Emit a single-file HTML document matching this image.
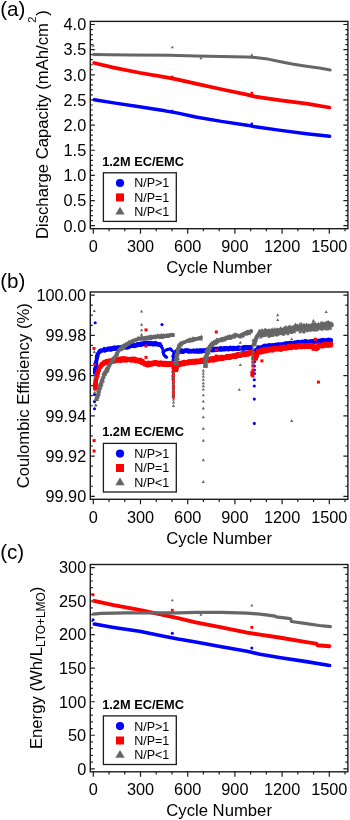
<!DOCTYPE html>
<html><head><meta charset="utf-8"><style>
html,body{margin:0;padding:0;background:#fff;}
svg{display:block;}
text{font-family:"Liberation Sans",sans-serif;fill:#000;}
.tl{font-size:16.3px;}
.at{font-size:16.7px;}
.sup{font-size:11px;}
.pl{font-size:20.6px;}
.lt{font-size:12.8px;font-weight:bold;}
.le{font-size:12.5px;}
</style></head><body>
<svg style="will-change:transform" width="350" height="820" viewBox="0 0 350 820">
<rect width="350" height="820" fill="#fff"/>
<text x="0.2" y="16.3" class="pl">(a)</text>
<text x="0.2" y="287.6" class="pl">(b)</text>
<text x="0.2" y="559.2" class="pl">(c)</text>
<rect x="90.3" y="21.4" width="257.60" height="207.3" fill="none" stroke="#1c1c1c" stroke-width="1.4"/>
<path d="M90.30 24.50h4.5 M347.90 24.50h-4.5 M90.30 29.53h2.5 M347.90 29.53h-2.5 M90.30 34.56h2.5 M347.90 34.56h-2.5 M90.30 39.59h2.5 M347.90 39.59h-2.5 M90.30 44.62h2.5 M347.90 44.62h-2.5 M90.30 49.65h4.5 M347.90 49.65h-4.5 M90.30 54.68h2.5 M347.90 54.68h-2.5 M90.30 59.71h2.5 M347.90 59.71h-2.5 M90.30 64.74h2.5 M347.90 64.74h-2.5 M90.30 69.77h2.5 M347.90 69.77h-2.5 M90.30 74.80h4.5 M347.90 74.80h-4.5 M90.30 79.83h2.5 M347.90 79.83h-2.5 M90.30 84.86h2.5 M347.90 84.86h-2.5 M90.30 89.89h2.5 M347.90 89.89h-2.5 M90.30 94.92h2.5 M347.90 94.92h-2.5 M90.30 99.95h4.5 M347.90 99.95h-4.5 M90.30 104.98h2.5 M347.90 104.98h-2.5 M90.30 110.01h2.5 M347.90 110.01h-2.5 M90.30 115.04h2.5 M347.90 115.04h-2.5 M90.30 120.07h2.5 M347.90 120.07h-2.5 M90.30 125.10h4.5 M347.90 125.10h-4.5 M90.30 130.13h2.5 M347.90 130.13h-2.5 M90.30 135.16h2.5 M347.90 135.16h-2.5 M90.30 140.19h2.5 M347.90 140.19h-2.5 M90.30 145.22h2.5 M347.90 145.22h-2.5 M90.30 150.25h4.5 M347.90 150.25h-4.5 M90.30 155.28h2.5 M347.90 155.28h-2.5 M90.30 160.31h2.5 M347.90 160.31h-2.5 M90.30 165.34h2.5 M347.90 165.34h-2.5 M90.30 170.37h2.5 M347.90 170.37h-2.5 M90.30 175.40h4.5 M347.90 175.40h-4.5 M90.30 180.43h2.5 M347.90 180.43h-2.5 M90.30 185.46h2.5 M347.90 185.46h-2.5 M90.30 190.49h2.5 M347.90 190.49h-2.5 M90.30 195.52h2.5 M347.90 195.52h-2.5 M90.30 200.55h4.5 M347.90 200.55h-4.5 M90.30 205.58h2.5 M347.90 205.58h-2.5 M90.30 210.61h2.5 M347.90 210.61h-2.5 M90.30 215.64h2.5 M347.90 215.64h-2.5 M90.30 220.67h2.5 M347.90 220.67h-2.5 M90.30 225.70h4.5 M347.90 225.70h-4.5 M93.30 228.70v5 M109.03 228.70v2.6 M124.77 228.70v2.6 M140.50 228.70v5 M156.23 228.70v2.6 M171.97 228.70v2.6 M187.70 228.70v5 M203.43 228.70v2.6 M219.17 228.70v2.6 M234.90 228.70v5 M250.63 228.70v2.6 M266.37 228.70v2.6 M282.10 228.70v5 M297.83 228.70v2.6 M313.57 228.70v2.6 M329.30 228.70v5 M345.03 228.70v2.6" stroke="#1c1c1c" stroke-width="1.2" fill="none"/>
<text x="86.2" y="30.30" text-anchor="end" class="tl">4.0</text>
<text x="86.2" y="55.45" text-anchor="end" class="tl">3.5</text>
<text x="86.2" y="80.60" text-anchor="end" class="tl">3.0</text>
<text x="86.2" y="105.75" text-anchor="end" class="tl">2.5</text>
<text x="86.2" y="130.90" text-anchor="end" class="tl">2.0</text>
<text x="86.2" y="156.05" text-anchor="end" class="tl">1.5</text>
<text x="86.2" y="181.20" text-anchor="end" class="tl">1.0</text>
<text x="86.2" y="206.35" text-anchor="end" class="tl">0.5</text>
<text x="86.2" y="231.50" text-anchor="end" class="tl">0.0</text>
<text x="93.30" y="251.90" text-anchor="middle" class="tl">0</text>
<text x="140.50" y="251.90" text-anchor="middle" class="tl">300</text>
<text x="187.70" y="251.90" text-anchor="middle" class="tl">600</text>
<text x="234.90" y="251.90" text-anchor="middle" class="tl">900</text>
<text x="282.10" y="251.90" text-anchor="middle" class="tl">1200</text>
<text x="329.30" y="251.90" text-anchor="middle" class="tl">1500</text>
<text x="219.1" y="272.90" text-anchor="middle" class="at">Cycle Number</text>
<text transform="translate(47.9 239.1) rotate(-90)" class="at">Discharge Capacity (mAh/cm</text>
<text transform="translate(36.4 19.7) rotate(-90)" text-anchor="middle" class="sup">2</text>
<text transform="translate(47.9 12.9) rotate(-90)" text-anchor="middle" class="at">)</text>
<text x="102.2" y="165.80" class="lt">1.2M EC/EMC</text>
<rect x="103.4" y="172.80" width="72.9" height="48.6" fill="none" stroke="#1c1c1c" stroke-width="1.3"/>
<circle cx="120" cy="183.00" r="4.1" fill="#0000ff"/>
<rect x="116.0" y="193.40" width="8" height="8" fill="#ff0000"/>
<path d="M115.3 214.60L124.7 214.60L120 206.80Z" fill="#666666"/>
<text x="134.2" y="187.40" class="le">N/P&gt;1</text>
<text x="134.2" y="201.70" class="le">N/P=1</text>
<text x="134.2" y="215.90" class="le">N/P&lt;1</text>
<polyline points="94.30,99.80 113.70,102.90 139.40,106.70 165.10,110.80 178.00,113.20 195.70,117.00 221.40,121.40 247.10,125.20 255.00,126.80 280.70,130.40 306.40,133.70 329.60,136.30" fill="none" stroke="#0000ff" stroke-width="3.4" stroke-linejoin="round" stroke-linecap="round"/>
<polyline points="94.20,63.00 113.70,67.60 139.40,72.80 165.10,77.10 178.00,79.60 195.70,83.60 221.40,89.20 247.10,94.60 255.00,96.60 280.70,100.30 306.40,103.60 329.40,107.50" fill="none" stroke="#ff0000" stroke-width="3.7" stroke-linejoin="round" stroke-linecap="round"/>
<polyline points="93.60,54.60 110.00,54.70 130.00,54.90 170.00,55.30 195.70,56.10 221.40,56.60 247.10,57.10 255.00,57.40 267.90,59.10 280.70,61.70 293.60,64.30 306.40,66.30 319.30,68.10 330.20,69.90" fill="none" stroke="#666666" stroke-width="3.0" stroke-linejoin="round" stroke-linecap="round"/>
<path d="M91.70 46.75L94.70 46.75L93.20 44.05ZM170.80 48.35L173.80 48.35L172.30 45.65ZM250.30 55.95L253.30 55.95L251.80 53.25ZM199.40 59.15L202.40 59.15L200.90 56.45Z" fill="#666666"/>
<g fill="#ff0000"><rect x="170.90" y="75.70" width="2.6" height="2.6"/><rect x="250.50" y="91.80" width="2.6" height="2.6"/></g>
<g fill="#0000ff"><circle cx="172.20" cy="111.20" r="1.4"/><circle cx="251.80" cy="124.00" r="1.4"/></g>
<rect x="90.3" y="292.0" width="257.60" height="207.3" fill="none" stroke="#1c1c1c" stroke-width="1.4"/>
<path d="M90.30 295.10h4.5 M347.90 295.10h-4.5 M90.30 305.16h2.5 M347.90 305.16h-2.5 M90.30 315.22h2.5 M347.90 315.22h-2.5 M90.30 325.28h2.5 M347.90 325.28h-2.5 M90.30 335.34h4.5 M347.90 335.34h-4.5 M90.30 345.40h2.5 M347.90 345.40h-2.5 M90.30 355.46h2.5 M347.90 355.46h-2.5 M90.30 365.52h2.5 M347.90 365.52h-2.5 M90.30 375.58h4.5 M347.90 375.58h-4.5 M90.30 385.64h2.5 M347.90 385.64h-2.5 M90.30 395.70h2.5 M347.90 395.70h-2.5 M90.30 405.76h2.5 M347.90 405.76h-2.5 M90.30 415.82h4.5 M347.90 415.82h-4.5 M90.30 425.88h2.5 M347.90 425.88h-2.5 M90.30 435.94h2.5 M347.90 435.94h-2.5 M90.30 446.00h2.5 M347.90 446.00h-2.5 M90.30 456.06h4.5 M347.90 456.06h-4.5 M90.30 466.12h2.5 M347.90 466.12h-2.5 M90.30 476.18h2.5 M347.90 476.18h-2.5 M90.30 486.24h2.5 M347.90 486.24h-2.5 M90.30 496.30h4.5 M347.90 496.30h-4.5 M93.30 499.30v5 M109.03 499.30v2.6 M124.77 499.30v2.6 M140.50 499.30v5 M156.23 499.30v2.6 M171.97 499.30v2.6 M187.70 499.30v5 M203.43 499.30v2.6 M219.17 499.30v2.6 M234.90 499.30v5 M250.63 499.30v2.6 M266.37 499.30v2.6 M282.10 499.30v5 M297.83 499.30v2.6 M313.57 499.30v2.6 M329.30 499.30v5 M345.03 499.30v2.6" stroke="#1c1c1c" stroke-width="1.2" fill="none"/>
<text x="86.2" y="300.90" text-anchor="end" class="tl">100.00</text>
<text x="86.2" y="341.14" text-anchor="end" class="tl">99.98</text>
<text x="86.2" y="381.38" text-anchor="end" class="tl">99.96</text>
<text x="86.2" y="421.62" text-anchor="end" class="tl">99.94</text>
<text x="86.2" y="461.86" text-anchor="end" class="tl">99.92</text>
<text x="86.2" y="502.10" text-anchor="end" class="tl">99.90</text>
<text x="93.30" y="522.50" text-anchor="middle" class="tl">0</text>
<text x="140.50" y="522.50" text-anchor="middle" class="tl">300</text>
<text x="187.70" y="522.50" text-anchor="middle" class="tl">600</text>
<text x="234.90" y="522.50" text-anchor="middle" class="tl">900</text>
<text x="282.10" y="522.50" text-anchor="middle" class="tl">1200</text>
<text x="329.30" y="522.50" text-anchor="middle" class="tl">1500</text>
<text x="219.1" y="543.50" text-anchor="middle" class="at">Cycle Number</text>
<text transform="translate(28.7 395.7) rotate(-90)" text-anchor="middle" class="at">Coulombic Efficiency (%)</text>
<text x="102.2" y="436.40" class="lt">1.2M EC/EMC</text>
<rect x="103.4" y="443.40" width="72.9" height="48.6" fill="none" stroke="#1c1c1c" stroke-width="1.3"/>
<circle cx="120" cy="453.60" r="4.1" fill="#0000ff"/>
<rect x="116.0" y="464.00" width="8" height="8" fill="#ff0000"/>
<path d="M115.3 485.20L124.7 485.20L120 477.40Z" fill="#666666"/>
<text x="134.2" y="458.00" class="le">N/P&gt;1</text>
<text x="134.2" y="472.30" class="le">N/P=1</text>
<text x="134.2" y="486.50" class="le">N/P&lt;1</text>
<polyline points="95.50,373.00 95.80,366.00 96.40,360.00 97.20,356.00 98.30,353.00 100.00,351.20 103.00,350.20 108.00,349.20 116.40,347.90 127.90,346.70 139.30,344.30 145.00,343.60 150.00,343.20 156.00,343.80 160.50,344.80" fill="none" stroke="#0000ff" stroke-width="3.0" stroke-linejoin="round" stroke-linecap="round"/>
<polyline points="173.90,358.00 174.80,353.00 176.50,351.20 185.00,350.90 200.00,350.90 217.10,349.10 234.30,348.30 251.60,347.40" fill="none" stroke="#0000ff" stroke-width="3.0" stroke-linejoin="round" stroke-linecap="round"/>
<polyline points="255.40,358.00 256.30,351.00 258.00,348.20 265.00,346.50 280.00,344.80 300.00,342.40 315.00,341.40 331.40,340.20" fill="none" stroke="#0000ff" stroke-width="3.0" stroke-linejoin="round" stroke-linecap="round"/>
<g fill="#0000ff"><circle cx="99.46" cy="350.43" r="1.55"/><circle cx="100.01" cy="352.27" r="1.55"/><circle cx="100.57" cy="349.90" r="1.55"/><circle cx="101.18" cy="351.39" r="1.55"/><circle cx="101.78" cy="350.02" r="1.55"/><circle cx="101.85" cy="351.07" r="1.55"/><circle cx="103.08" cy="349.31" r="1.55"/><circle cx="102.90" cy="350.81" r="1.55"/><circle cx="104.14" cy="348.92" r="1.55"/><circle cx="104.12" cy="351.03" r="1.55"/><circle cx="104.36" cy="348.39" r="1.55"/><circle cx="105.09" cy="351.10" r="1.55"/><circle cx="105.57" cy="348.97" r="1.55"/><circle cx="106.41" cy="350.38" r="1.55"/><circle cx="106.93" cy="348.74" r="1.55"/><circle cx="107.12" cy="350.49" r="1.55"/><circle cx="107.49" cy="348.19" r="1.55"/><circle cx="107.85" cy="349.75" r="1.55"/><circle cx="108.70" cy="347.92" r="1.55"/><circle cx="109.12" cy="349.85" r="1.55"/><circle cx="109.56" cy="347.99" r="1.55"/><circle cx="110.22" cy="350.16" r="1.55"/><circle cx="110.75" cy="348.04" r="1.55"/><circle cx="111.25" cy="349.76" r="1.55"/><circle cx="111.38" cy="347.44" r="1.55"/><circle cx="111.65" cy="350.05" r="1.55"/><circle cx="112.73" cy="347.59" r="1.55"/><circle cx="112.76" cy="349.12" r="1.55"/><circle cx="113.65" cy="347.80" r="1.55"/><circle cx="113.85" cy="349.55" r="1.55"/><circle cx="114.18" cy="346.86" r="1.55"/><circle cx="114.79" cy="349.34" r="1.55"/><circle cx="115.27" cy="347.00" r="1.55"/><circle cx="116.02" cy="349.34" r="1.55"/><circle cx="116.43" cy="346.95" r="1.55"/><circle cx="116.62" cy="348.46" r="1.55"/><circle cx="117.64" cy="346.68" r="1.55"/><circle cx="117.32" cy="349.08" r="1.55"/><circle cx="118.36" cy="346.83" r="1.55"/><circle cx="118.34" cy="348.22" r="1.55"/><circle cx="118.90" cy="346.94" r="1.55"/><circle cx="119.55" cy="348.15" r="1.55"/><circle cx="119.97" cy="346.88" r="1.55"/><circle cx="120.62" cy="348.37" r="1.55"/><circle cx="121.09" cy="346.83" r="1.55"/><circle cx="121.61" cy="348.42" r="1.55"/><circle cx="122.31" cy="346.02" r="1.55"/><circle cx="122.16" cy="348.06" r="1.55"/><circle cx="123.33" cy="346.36" r="1.55"/><circle cx="122.98" cy="348.61" r="1.55"/><circle cx="123.78" cy="346.43" r="1.55"/><circle cx="124.13" cy="347.82" r="1.55"/><circle cx="124.72" cy="345.94" r="1.55"/><circle cx="125.01" cy="347.50" r="1.55"/><circle cx="125.95" cy="346.05" r="1.55"/><circle cx="126.28" cy="348.31" r="1.55"/><circle cx="126.93" cy="345.81" r="1.55"/><circle cx="126.70" cy="347.94" r="1.55"/><circle cx="127.84" cy="345.37" r="1.55"/><circle cx="128.41" cy="348.01" r="1.55"/><circle cx="128.59" cy="345.64" r="1.55"/><circle cx="129.08" cy="347.09" r="1.55"/><circle cx="129.34" cy="345.75" r="1.55"/><circle cx="129.67" cy="346.99" r="1.55"/><circle cx="130.22" cy="345.29" r="1.55"/><circle cx="130.57" cy="346.59" r="1.55"/><circle cx="131.47" cy="345.32" r="1.55"/><circle cx="132.11" cy="346.41" r="1.55"/><circle cx="132.14" cy="344.63" r="1.55"/><circle cx="132.68" cy="346.43" r="1.55"/><circle cx="133.12" cy="344.67" r="1.55"/><circle cx="134.27" cy="346.79" r="1.55"/><circle cx="134.34" cy="344.37" r="1.55"/><circle cx="134.35" cy="345.87" r="1.55"/><circle cx="135.14" cy="344.29" r="1.55"/><circle cx="135.50" cy="346.37" r="1.55"/><circle cx="136.70" cy="344.39" r="1.55"/><circle cx="136.37" cy="345.89" r="1.55"/><circle cx="136.81" cy="343.70" r="1.55"/><circle cx="137.99" cy="345.69" r="1.55"/><circle cx="138.23" cy="343.20" r="1.55"/><circle cx="138.40" cy="345.23" r="1.55"/><circle cx="139.44" cy="343.64" r="1.55"/><circle cx="139.65" cy="345.30" r="1.55"/><circle cx="139.93" cy="343.37" r="1.55"/><circle cx="140.79" cy="345.45" r="1.55"/><circle cx="141.28" cy="342.76" r="1.55"/><circle cx="141.55" cy="345.34" r="1.55"/><circle cx="142.08" cy="343.24" r="1.55"/><circle cx="141.88" cy="344.79" r="1.55"/><circle cx="142.86" cy="343.31" r="1.55"/><circle cx="143.35" cy="344.58" r="1.55"/><circle cx="143.83" cy="342.31" r="1.55"/><circle cx="144.61" cy="345.11" r="1.55"/><circle cx="144.78" cy="342.19" r="1.55"/><circle cx="144.84" cy="344.31" r="1.55"/><circle cx="145.71" cy="342.83" r="1.55"/><circle cx="146.41" cy="344.62" r="1.55"/><circle cx="146.88" cy="342.14" r="1.55"/><circle cx="147.33" cy="344.56" r="1.55"/><circle cx="148.08" cy="342.78" r="1.55"/><circle cx="148.34" cy="344.73" r="1.55"/><circle cx="148.89" cy="342.06" r="1.55"/><circle cx="149.28" cy="343.95" r="1.55"/><circle cx="150.32" cy="342.38" r="1.55"/><circle cx="149.77" cy="344.63" r="1.55"/><circle cx="151.45" cy="342.42" r="1.55"/><circle cx="150.62" cy="344.49" r="1.55"/><circle cx="151.78" cy="342.78" r="1.55"/><circle cx="152.11" cy="344.76" r="1.55"/><circle cx="153.32" cy="342.86" r="1.55"/><circle cx="152.98" cy="344.93" r="1.55"/><circle cx="154.12" cy="342.77" r="1.55"/><circle cx="153.55" cy="344.22" r="1.55"/><circle cx="155.26" cy="342.28" r="1.55"/><circle cx="155.25" cy="344.70" r="1.55"/><circle cx="156.50" cy="342.91" r="1.55"/><circle cx="155.49" cy="345.06" r="1.55"/><circle cx="156.90" cy="343.28" r="1.55"/><circle cx="156.81" cy="344.71" r="1.55"/><circle cx="157.90" cy="343.47" r="1.55"/><circle cx="157.99" cy="344.81" r="1.55"/><circle cx="158.85" cy="343.58" r="1.55"/><circle cx="158.79" cy="345.43" r="1.55"/><circle cx="160.13" cy="343.72" r="1.55"/><circle cx="159.41" cy="345.56" r="1.55"/><circle cx="160.11" cy="343.80" r="1.55"/><circle cx="160.25" cy="345.72" r="1.55"/><circle cx="173.64" cy="357.91" r="1.55"/><circle cx="174.53" cy="358.12" r="1.55"/><circle cx="172.95" cy="356.79" r="1.55"/><circle cx="174.89" cy="357.14" r="1.55"/><circle cx="173.47" cy="355.82" r="1.55"/><circle cx="174.90" cy="356.11" r="1.55"/><circle cx="173.53" cy="354.87" r="1.55"/><circle cx="175.67" cy="355.22" r="1.55"/><circle cx="173.81" cy="353.82" r="1.55"/><circle cx="175.93" cy="354.24" r="1.55"/><circle cx="174.01" cy="352.25" r="1.55"/><circle cx="175.68" cy="353.68" r="1.55"/><circle cx="175.00" cy="351.46" r="1.55"/><circle cx="176.70" cy="352.76" r="1.55"/><circle cx="176.76" cy="350.03" r="1.55"/><circle cx="176.36" cy="352.60" r="1.55"/><circle cx="177.76" cy="350.13" r="1.55"/><circle cx="177.20" cy="352.47" r="1.55"/><circle cx="178.32" cy="350.52" r="1.55"/><circle cx="178.20" cy="351.70" r="1.55"/><circle cx="179.45" cy="350.53" r="1.55"/><circle cx="179.70" cy="352.35" r="1.55"/><circle cx="180.43" cy="350.42" r="1.55"/><circle cx="180.03" cy="352.20" r="1.55"/><circle cx="181.55" cy="349.69" r="1.55"/><circle cx="181.61" cy="351.74" r="1.55"/><circle cx="182.13" cy="350.12" r="1.55"/><circle cx="182.48" cy="352.45" r="1.55"/><circle cx="183.03" cy="350.31" r="1.55"/><circle cx="183.02" cy="351.96" r="1.55"/><circle cx="183.89" cy="350.25" r="1.55"/><circle cx="183.71" cy="352.13" r="1.55"/><circle cx="184.95" cy="349.87" r="1.55"/><circle cx="184.87" cy="351.42" r="1.55"/><circle cx="185.95" cy="349.80" r="1.55"/><circle cx="186.33" cy="351.46" r="1.55"/><circle cx="187.25" cy="349.64" r="1.55"/><circle cx="186.69" cy="351.50" r="1.55"/><circle cx="188.04" cy="350.36" r="1.55"/><circle cx="187.52" cy="351.66" r="1.55"/><circle cx="189.08" cy="349.99" r="1.55"/><circle cx="188.56" cy="352.19" r="1.55"/><circle cx="190.02" cy="350.26" r="1.55"/><circle cx="189.85" cy="351.95" r="1.55"/><circle cx="190.27" cy="350.31" r="1.55"/><circle cx="190.57" cy="352.06" r="1.55"/><circle cx="191.91" cy="350.33" r="1.55"/><circle cx="191.80" cy="352.01" r="1.55"/><circle cx="192.78" cy="350.32" r="1.55"/><circle cx="192.79" cy="351.46" r="1.55"/><circle cx="193.31" cy="349.96" r="1.55"/><circle cx="193.78" cy="351.93" r="1.55"/><circle cx="194.08" cy="350.14" r="1.55"/><circle cx="194.17" cy="351.91" r="1.55"/><circle cx="195.04" cy="350.29" r="1.55"/><circle cx="195.07" cy="351.45" r="1.55"/><circle cx="196.09" cy="350.10" r="1.55"/><circle cx="196.08" cy="352.13" r="1.55"/><circle cx="196.93" cy="349.92" r="1.55"/><circle cx="196.80" cy="351.73" r="1.55"/><circle cx="197.74" cy="350.16" r="1.55"/><circle cx="198.17" cy="352.10" r="1.55"/><circle cx="199.04" cy="350.22" r="1.55"/><circle cx="198.75" cy="352.30" r="1.55"/><circle cx="199.81" cy="349.62" r="1.55"/><circle cx="200.37" cy="351.87" r="1.55"/><circle cx="200.81" cy="349.93" r="1.55"/><circle cx="201.41" cy="351.96" r="1.55"/><circle cx="201.98" cy="349.89" r="1.55"/><circle cx="202.03" cy="351.88" r="1.55"/><circle cx="202.49" cy="349.73" r="1.55"/><circle cx="202.46" cy="351.16" r="1.55"/><circle cx="203.73" cy="349.96" r="1.55"/><circle cx="203.41" cy="351.26" r="1.55"/><circle cx="204.71" cy="349.85" r="1.55"/><circle cx="204.78" cy="351.75" r="1.55"/><circle cx="205.11" cy="349.57" r="1.55"/><circle cx="205.45" cy="351.11" r="1.55"/><circle cx="206.19" cy="349.59" r="1.55"/><circle cx="206.75" cy="350.99" r="1.55"/><circle cx="207.09" cy="348.72" r="1.55"/><circle cx="207.65" cy="350.87" r="1.55"/><circle cx="207.90" cy="349.25" r="1.55"/><circle cx="208.06" cy="350.55" r="1.55"/><circle cx="208.90" cy="349.00" r="1.55"/><circle cx="209.08" cy="350.64" r="1.55"/><circle cx="209.66" cy="349.36" r="1.55"/><circle cx="209.88" cy="350.44" r="1.55"/><circle cx="210.36" cy="349.23" r="1.55"/><circle cx="210.67" cy="350.55" r="1.55"/><circle cx="211.61" cy="348.61" r="1.55"/><circle cx="211.95" cy="350.88" r="1.55"/><circle cx="212.78" cy="348.39" r="1.55"/><circle cx="212.55" cy="350.44" r="1.55"/><circle cx="213.07" cy="348.04" r="1.55"/><circle cx="213.74" cy="350.67" r="1.55"/><circle cx="214.61" cy="348.85" r="1.55"/><circle cx="214.64" cy="350.73" r="1.55"/><circle cx="215.42" cy="348.09" r="1.55"/><circle cx="215.39" cy="349.92" r="1.55"/><circle cx="216.36" cy="348.22" r="1.55"/><circle cx="216.59" cy="350.46" r="1.55"/><circle cx="217.36" cy="348.04" r="1.55"/><circle cx="217.31" cy="350.25" r="1.55"/><circle cx="217.60" cy="348.34" r="1.55"/><circle cx="217.92" cy="349.68" r="1.55"/><circle cx="219.15" cy="348.42" r="1.55"/><circle cx="219.06" cy="350.05" r="1.55"/><circle cx="219.91" cy="347.87" r="1.55"/><circle cx="219.46" cy="349.94" r="1.55"/><circle cx="220.86" cy="347.67" r="1.55"/><circle cx="220.79" cy="349.91" r="1.55"/><circle cx="221.23" cy="347.76" r="1.55"/><circle cx="221.48" cy="350.10" r="1.55"/><circle cx="222.32" cy="348.28" r="1.55"/><circle cx="222.35" cy="350.05" r="1.55"/><circle cx="223.76" cy="347.60" r="1.55"/><circle cx="223.39" cy="349.78" r="1.55"/><circle cx="224.44" cy="347.80" r="1.55"/><circle cx="224.49" cy="350.00" r="1.55"/><circle cx="224.86" cy="347.61" r="1.55"/><circle cx="225.08" cy="349.36" r="1.55"/><circle cx="225.94" cy="347.47" r="1.55"/><circle cx="225.81" cy="349.72" r="1.55"/><circle cx="226.85" cy="348.08" r="1.55"/><circle cx="227.26" cy="349.78" r="1.55"/><circle cx="227.74" cy="347.45" r="1.55"/><circle cx="227.98" cy="349.59" r="1.55"/><circle cx="228.52" cy="347.61" r="1.55"/><circle cx="228.69" cy="349.91" r="1.55"/><circle cx="230.06" cy="347.07" r="1.55"/><circle cx="229.76" cy="349.03" r="1.55"/><circle cx="230.99" cy="347.18" r="1.55"/><circle cx="230.54" cy="349.40" r="1.55"/><circle cx="231.91" cy="347.73" r="1.55"/><circle cx="231.68" cy="349.13" r="1.55"/><circle cx="232.48" cy="347.75" r="1.55"/><circle cx="232.26" cy="349.80" r="1.55"/><circle cx="233.34" cy="347.06" r="1.55"/><circle cx="233.62" cy="349.69" r="1.55"/><circle cx="234.58" cy="347.58" r="1.55"/><circle cx="233.97" cy="349.27" r="1.55"/><circle cx="235.18" cy="347.75" r="1.55"/><circle cx="235.10" cy="349.18" r="1.55"/><circle cx="235.96" cy="347.57" r="1.55"/><circle cx="236.43" cy="349.01" r="1.55"/><circle cx="237.21" cy="347.66" r="1.55"/><circle cx="236.80" cy="349.46" r="1.55"/><circle cx="238.04" cy="346.72" r="1.55"/><circle cx="237.84" cy="349.47" r="1.55"/><circle cx="238.72" cy="347.21" r="1.55"/><circle cx="239.00" cy="349.52" r="1.55"/><circle cx="239.66" cy="347.17" r="1.55"/><circle cx="239.44" cy="348.78" r="1.55"/><circle cx="240.91" cy="347.37" r="1.55"/><circle cx="241.06" cy="348.74" r="1.55"/><circle cx="241.36" cy="347.18" r="1.55"/><circle cx="241.39" cy="348.91" r="1.55"/><circle cx="242.82" cy="347.02" r="1.55"/><circle cx="242.81" cy="349.22" r="1.55"/><circle cx="243.68" cy="346.72" r="1.55"/><circle cx="243.52" cy="349.23" r="1.55"/><circle cx="243.89" cy="346.59" r="1.55"/><circle cx="244.34" cy="348.98" r="1.55"/><circle cx="245.28" cy="346.51" r="1.55"/><circle cx="244.91" cy="348.51" r="1.55"/><circle cx="245.77" cy="346.30" r="1.55"/><circle cx="246.06" cy="348.64" r="1.55"/><circle cx="247.20" cy="346.85" r="1.55"/><circle cx="246.93" cy="349.07" r="1.55"/><circle cx="247.74" cy="346.46" r="1.55"/><circle cx="247.93" cy="348.62" r="1.55"/><circle cx="248.56" cy="346.88" r="1.55"/><circle cx="249.23" cy="348.24" r="1.55"/><circle cx="249.50" cy="346.52" r="1.55"/><circle cx="250.25" cy="348.86" r="1.55"/><circle cx="250.35" cy="346.52" r="1.55"/><circle cx="250.40" cy="348.13" r="1.55"/><circle cx="251.27" cy="346.57" r="1.55"/><circle cx="251.41" cy="348.13" r="1.55"/><circle cx="254.67" cy="357.87" r="1.55"/><circle cx="256.54" cy="358.16" r="1.55"/><circle cx="254.66" cy="356.89" r="1.55"/><circle cx="256.25" cy="357.11" r="1.55"/><circle cx="254.92" cy="355.93" r="1.55"/><circle cx="256.78" cy="356.18" r="1.55"/><circle cx="254.91" cy="354.87" r="1.55"/><circle cx="256.88" cy="355.17" r="1.55"/><circle cx="254.96" cy="353.90" r="1.55"/><circle cx="256.75" cy="354.11" r="1.55"/><circle cx="254.92" cy="352.82" r="1.55"/><circle cx="256.99" cy="353.17" r="1.55"/><circle cx="255.81" cy="351.93" r="1.55"/><circle cx="257.50" cy="352.17" r="1.55"/><circle cx="254.99" cy="350.45" r="1.55"/><circle cx="257.39" cy="351.45" r="1.55"/><circle cx="256.05" cy="349.40" r="1.55"/><circle cx="257.89" cy="350.81" r="1.55"/><circle cx="256.64" cy="348.82" r="1.55"/><circle cx="258.44" cy="349.65" r="1.55"/><circle cx="257.85" cy="346.84" r="1.55"/><circle cx="258.48" cy="349.29" r="1.55"/><circle cx="258.69" cy="347.07" r="1.55"/><circle cx="259.23" cy="348.51" r="1.55"/><circle cx="259.92" cy="347.07" r="1.55"/><circle cx="259.86" cy="348.86" r="1.55"/><circle cx="260.28" cy="346.96" r="1.55"/><circle cx="261.05" cy="348.64" r="1.55"/><circle cx="261.01" cy="346.76" r="1.55"/><circle cx="261.80" cy="348.33" r="1.55"/><circle cx="261.95" cy="346.29" r="1.55"/><circle cx="262.24" cy="348.18" r="1.55"/><circle cx="263.03" cy="346.16" r="1.55"/><circle cx="263.70" cy="348.31" r="1.55"/><circle cx="263.79" cy="345.40" r="1.55"/><circle cx="264.09" cy="347.42" r="1.55"/><circle cx="265.00" cy="345.09" r="1.55"/><circle cx="264.71" cy="347.29" r="1.55"/><circle cx="265.97" cy="345.42" r="1.55"/><circle cx="265.85" cy="347.29" r="1.55"/><circle cx="267.09" cy="345.15" r="1.55"/><circle cx="266.58" cy="347.00" r="1.55"/><circle cx="267.66" cy="345.36" r="1.55"/><circle cx="267.70" cy="347.33" r="1.55"/><circle cx="268.80" cy="344.82" r="1.55"/><circle cx="268.63" cy="347.05" r="1.55"/><circle cx="269.38" cy="344.55" r="1.55"/><circle cx="269.62" cy="347.25" r="1.55"/><circle cx="270.75" cy="345.15" r="1.55"/><circle cx="271.07" cy="346.64" r="1.55"/><circle cx="271.20" cy="344.79" r="1.55"/><circle cx="271.58" cy="346.47" r="1.55"/><circle cx="272.73" cy="344.52" r="1.55"/><circle cx="272.49" cy="346.29" r="1.55"/><circle cx="273.74" cy="344.84" r="1.55"/><circle cx="273.15" cy="346.18" r="1.55"/><circle cx="274.23" cy="344.88" r="1.55"/><circle cx="274.84" cy="346.79" r="1.55"/><circle cx="275.58" cy="344.14" r="1.55"/><circle cx="275.33" cy="346.72" r="1.55"/><circle cx="276.52" cy="344.55" r="1.55"/><circle cx="276.01" cy="346.43" r="1.55"/><circle cx="276.96" cy="343.99" r="1.55"/><circle cx="277.15" cy="345.97" r="1.55"/><circle cx="277.65" cy="344.35" r="1.55"/><circle cx="278.09" cy="345.78" r="1.55"/><circle cx="278.60" cy="343.50" r="1.55"/><circle cx="278.99" cy="346.32" r="1.55"/><circle cx="280.16" cy="343.96" r="1.55"/><circle cx="280.10" cy="346.08" r="1.55"/><circle cx="280.82" cy="344.15" r="1.55"/><circle cx="281.35" cy="345.54" r="1.55"/><circle cx="281.63" cy="343.90" r="1.55"/><circle cx="281.60" cy="345.93" r="1.55"/><circle cx="282.87" cy="343.58" r="1.55"/><circle cx="282.51" cy="345.70" r="1.55"/><circle cx="283.22" cy="343.83" r="1.55"/><circle cx="283.61" cy="345.74" r="1.55"/><circle cx="284.72" cy="343.05" r="1.55"/><circle cx="284.46" cy="345.07" r="1.55"/><circle cx="285.38" cy="342.74" r="1.55"/><circle cx="285.72" cy="344.89" r="1.55"/><circle cx="286.09" cy="343.24" r="1.55"/><circle cx="286.63" cy="344.54" r="1.55"/><circle cx="287.22" cy="342.56" r="1.55"/><circle cx="287.06" cy="345.32" r="1.55"/><circle cx="288.08" cy="343.10" r="1.55"/><circle cx="288.71" cy="345.23" r="1.55"/><circle cx="288.79" cy="342.84" r="1.55"/><circle cx="289.19" cy="344.62" r="1.55"/><circle cx="289.58" cy="342.22" r="1.55"/><circle cx="290.34" cy="344.86" r="1.55"/><circle cx="290.97" cy="342.21" r="1.55"/><circle cx="290.90" cy="344.57" r="1.55"/><circle cx="291.61" cy="342.58" r="1.55"/><circle cx="291.63" cy="344.62" r="1.55"/><circle cx="292.85" cy="342.59" r="1.55"/><circle cx="292.47" cy="344.00" r="1.55"/><circle cx="293.61" cy="342.63" r="1.55"/><circle cx="294.12" cy="343.97" r="1.55"/><circle cx="294.78" cy="341.72" r="1.55"/><circle cx="294.30" cy="343.80" r="1.55"/><circle cx="295.38" cy="342.36" r="1.55"/><circle cx="295.55" cy="344.12" r="1.55"/><circle cx="296.21" cy="342.12" r="1.55"/><circle cx="296.63" cy="343.92" r="1.55"/><circle cx="297.41" cy="341.52" r="1.55"/><circle cx="297.11" cy="343.86" r="1.55"/><circle cx="297.86" cy="341.32" r="1.55"/><circle cx="298.20" cy="343.65" r="1.55"/><circle cx="298.71" cy="341.31" r="1.55"/><circle cx="298.98" cy="343.24" r="1.55"/><circle cx="300.26" cy="341.75" r="1.55"/><circle cx="299.93" cy="343.45" r="1.55"/><circle cx="301.27" cy="341.46" r="1.55"/><circle cx="300.79" cy="343.32" r="1.55"/><circle cx="301.91" cy="341.00" r="1.55"/><circle cx="301.65" cy="343.72" r="1.55"/><circle cx="303.00" cy="341.26" r="1.55"/><circle cx="303.23" cy="343.52" r="1.55"/><circle cx="303.55" cy="341.61" r="1.55"/><circle cx="303.54" cy="342.76" r="1.55"/><circle cx="304.66" cy="340.66" r="1.55"/><circle cx="304.68" cy="343.48" r="1.55"/><circle cx="305.50" cy="340.70" r="1.55"/><circle cx="305.90" cy="342.77" r="1.55"/><circle cx="306.15" cy="340.56" r="1.55"/><circle cx="306.73" cy="343.03" r="1.55"/><circle cx="307.35" cy="341.19" r="1.55"/><circle cx="307.31" cy="342.53" r="1.55"/><circle cx="308.47" cy="341.09" r="1.55"/><circle cx="308.28" cy="342.96" r="1.55"/><circle cx="309.20" cy="341.27" r="1.55"/><circle cx="309.20" cy="342.92" r="1.55"/><circle cx="310.02" cy="340.91" r="1.55"/><circle cx="310.43" cy="342.97" r="1.55"/><circle cx="310.89" cy="341.09" r="1.55"/><circle cx="311.35" cy="342.53" r="1.55"/><circle cx="311.79" cy="340.48" r="1.55"/><circle cx="312.39" cy="342.24" r="1.55"/><circle cx="312.89" cy="340.63" r="1.55"/><circle cx="313.54" cy="342.32" r="1.55"/><circle cx="314.06" cy="340.66" r="1.55"/><circle cx="314.05" cy="342.30" r="1.55"/><circle cx="315.30" cy="340.07" r="1.55"/><circle cx="314.82" cy="342.25" r="1.55"/><circle cx="315.59" cy="340.14" r="1.55"/><circle cx="316.27" cy="341.84" r="1.55"/><circle cx="317.01" cy="340.36" r="1.55"/><circle cx="317.19" cy="342.15" r="1.55"/><circle cx="317.39" cy="340.26" r="1.55"/><circle cx="317.81" cy="341.71" r="1.55"/><circle cx="318.89" cy="340.02" r="1.55"/><circle cx="318.78" cy="341.72" r="1.55"/><circle cx="319.50" cy="340.21" r="1.55"/><circle cx="319.43" cy="341.71" r="1.55"/><circle cx="320.73" cy="340.00" r="1.55"/><circle cx="320.50" cy="341.60" r="1.55"/><circle cx="321.66" cy="339.66" r="1.55"/><circle cx="321.13" cy="341.62" r="1.55"/><circle cx="322.57" cy="339.47" r="1.55"/><circle cx="322.00" cy="341.83" r="1.55"/><circle cx="323.01" cy="339.41" r="1.55"/><circle cx="323.40" cy="342.16" r="1.55"/><circle cx="323.75" cy="339.45" r="1.55"/><circle cx="323.98" cy="341.98" r="1.55"/><circle cx="325.23" cy="339.78" r="1.55"/><circle cx="324.86" cy="341.96" r="1.55"/><circle cx="325.80" cy="339.89" r="1.55"/><circle cx="325.91" cy="341.59" r="1.55"/><circle cx="326.60" cy="339.92" r="1.55"/><circle cx="327.25" cy="341.73" r="1.55"/><circle cx="327.77" cy="339.93" r="1.55"/><circle cx="327.48" cy="341.69" r="1.55"/><circle cx="328.27" cy="339.10" r="1.55"/><circle cx="328.79" cy="341.47" r="1.55"/><circle cx="329.34" cy="339.23" r="1.55"/><circle cx="329.71" cy="341.23" r="1.55"/><circle cx="330.55" cy="339.36" r="1.55"/><circle cx="330.51" cy="341.19" r="1.55"/><circle cx="331.50" cy="339.68" r="1.55"/><circle cx="331.19" cy="341.17" r="1.55"/><circle cx="95.14" cy="372.97" r="1.55"/><circle cx="95.64" cy="373.02" r="1.55"/><circle cx="94.83" cy="371.98" r="1.55"/><circle cx="95.67" cy="372.01" r="1.55"/><circle cx="95.38" cy="370.99" r="1.55"/><circle cx="95.64" cy="371.02" r="1.55"/><circle cx="94.79" cy="369.98" r="1.55"/><circle cx="96.42" cy="370.02" r="1.55"/><circle cx="94.89" cy="368.98" r="1.55"/><circle cx="96.00" cy="369.02" r="1.55"/><circle cx="94.72" cy="367.97" r="1.55"/><circle cx="96.76" cy="368.03" r="1.55"/><circle cx="95.44" cy="366.98" r="1.55"/><circle cx="96.37" cy="367.01" r="1.55"/><circle cx="95.75" cy="365.96" r="1.55"/><circle cx="96.21" cy="366.07" r="1.55"/><circle cx="95.64" cy="364.94" r="1.55"/><circle cx="95.92" cy="365.01" r="1.55"/><circle cx="95.15" cy="363.94" r="1.55"/><circle cx="96.49" cy="364.07" r="1.55"/><circle cx="95.20" cy="362.94" r="1.55"/><circle cx="96.86" cy="363.04" r="1.55"/><circle cx="95.78" cy="361.98" r="1.55"/><circle cx="96.48" cy="362.04" r="1.55"/><circle cx="95.92" cy="360.99" r="1.55"/><circle cx="96.85" cy="361.02" r="1.55"/><circle cx="96.19" cy="359.90" r="1.55"/><circle cx="96.83" cy="360.04" r="1.55"/><circle cx="96.45" cy="358.97" r="1.55"/><circle cx="96.99" cy="359.10" r="1.55"/><circle cx="96.20" cy="357.87" r="1.55"/><circle cx="97.57" cy="358.09" r="1.55"/><circle cx="97.23" cy="356.97" r="1.55"/><circle cx="97.41" cy="357.10" r="1.55"/><circle cx="96.44" cy="355.79" r="1.55"/><circle cx="97.95" cy="356.25" r="1.55"/><circle cx="97.47" cy="354.89" r="1.55"/><circle cx="97.67" cy="355.13" r="1.55"/><circle cx="97.03" cy="353.80" r="1.55"/><circle cx="98.32" cy="354.22" r="1.55"/><circle cx="98.32" cy="352.65" r="1.55"/><circle cx="98.78" cy="353.33" r="1.55"/><circle cx="98.53" cy="351.89" r="1.55"/><circle cx="98.96" cy="352.18" r="1.55"/><circle cx="99.95" cy="350.71" r="1.55"/><circle cx="100.32" cy="351.63" r="1.55"/><circle cx="161.50" cy="346.50" r="1.55"/><circle cx="162.50" cy="348.50" r="1.55"/><circle cx="163.00" cy="351.00" r="1.55"/><circle cx="163.50" cy="353.50" r="1.55"/><circle cx="164.50" cy="355.50" r="1.55"/><circle cx="165.50" cy="356.80" r="1.55"/><circle cx="166.50" cy="357.30" r="1.55"/><circle cx="164.00" cy="351.50" r="1.55"/><circle cx="165.00" cy="350.50" r="1.55"/><circle cx="166.50" cy="349.80" r="1.55"/><circle cx="168.00" cy="349.20" r="1.55"/><circle cx="169.50" cy="349.00" r="1.55"/><circle cx="171.00" cy="349.40" r="1.55"/><circle cx="172.20" cy="350.80" r="1.55"/><circle cx="162.00" cy="347.80" r="1.55"/><circle cx="163.20" cy="352.20" r="1.55"/><circle cx="165.80" cy="356.20" r="1.55"/><circle cx="167.40" cy="349.60" r="1.55"/><circle cx="170.20" cy="348.80" r="1.55"/><circle cx="161.20" cy="345.60" r="1.55"/><circle cx="163.80" cy="354.60" r="1.55"/><circle cx="173.00" cy="356.00" r="1.55"/><circle cx="173.00" cy="360.00" r="1.55"/><circle cx="173.00" cy="364.00" r="1.55"/><circle cx="173.00" cy="368.00" r="1.55"/><circle cx="173.00" cy="372.00" r="1.55"/><circle cx="173.00" cy="376.00" r="1.55"/><circle cx="173.00" cy="379.00" r="1.55"/><circle cx="254.40" cy="350.00" r="1.55"/><circle cx="254.40" cy="354.00" r="1.55"/><circle cx="254.40" cy="358.00" r="1.55"/><circle cx="254.40" cy="362.00" r="1.55"/><circle cx="254.40" cy="366.00" r="1.55"/><circle cx="254.40" cy="370.00" r="1.55"/><circle cx="254.40" cy="373.50" r="1.55"/><circle cx="94.50" cy="369.00" r="1.55"/><circle cx="94.50" cy="371.00" r="1.55"/><circle cx="94.50" cy="373.00" r="1.55"/><circle cx="94.50" cy="384.60" r="1.55"/><circle cx="94.50" cy="394.60" r="1.55"/><circle cx="94.50" cy="401.60" r="1.55"/><circle cx="94.50" cy="408.80" r="1.55"/><circle cx="95.20" cy="322.80" r="1.55"/><circle cx="162.00" cy="324.60" r="1.55"/><circle cx="254.30" cy="379.70" r="1.55"/><circle cx="254.30" cy="386.00" r="1.55"/><circle cx="254.30" cy="399.10" r="1.55"/><circle cx="254.30" cy="423.40" r="1.55"/></g>
<polyline points="95.20,388.50 95.60,383.60 96.40,377.60 97.70,372.40 99.40,367.80 102.00,364.40 105.40,362.40 110.60,361.00 115.70,360.00 120.00,359.60 127.90,359.40 135.00,360.00 140.00,360.80 143.50,362.40 146.50,365.00 149.00,363.80 155.00,363.20 165.00,364.00 172.40,364.00" fill="none" stroke="#ff0000" stroke-width="3.8" stroke-linejoin="round" stroke-linecap="round"/>
<polyline points="175.00,370.00 176.20,366.50 178.00,364.60 185.00,362.90 200.00,361.30 217.10,358.60 234.30,356.00 251.60,352.60" fill="none" stroke="#ff0000" stroke-width="3.8" stroke-linejoin="round" stroke-linecap="round"/>
<polyline points="255.00,359.00 255.80,355.00 257.50,352.40 262.00,350.80 270.00,349.60 280.00,348.40 295.00,346.40 312.00,346.00 315.60,348.60 319.00,345.80 331.40,344.20" fill="none" stroke="#ff0000" stroke-width="3.8" stroke-linejoin="round" stroke-linecap="round"/>
<g fill="#ff0000"><rect x="99.88" y="362.21" width="3.0" height="3.0"/><rect x="100.82" y="364.09" width="3.0" height="3.0"/><rect x="100.90" y="361.84" width="3.0" height="3.0"/><rect x="101.63" y="363.06" width="3.0" height="3.0"/><rect x="101.81" y="361.12" width="3.0" height="3.0"/><rect x="102.63" y="363.03" width="3.0" height="3.0"/><rect x="102.35" y="360.24" width="3.0" height="3.0"/><rect x="103.81" y="362.09" width="3.0" height="3.0"/><rect x="103.38" y="360.01" width="3.0" height="3.0"/><rect x="104.21" y="361.63" width="3.0" height="3.0"/><rect x="104.74" y="359.05" width="3.0" height="3.0"/><rect x="105.04" y="361.68" width="3.0" height="3.0"/><rect x="105.92" y="359.70" width="3.0" height="3.0"/><rect x="106.19" y="361.58" width="3.0" height="3.0"/><rect x="106.62" y="358.73" width="3.0" height="3.0"/><rect x="107.65" y="361.70" width="3.0" height="3.0"/><rect x="108.14" y="358.88" width="3.0" height="3.0"/><rect x="108.27" y="360.46" width="3.0" height="3.0"/><rect x="108.68" y="358.42" width="3.0" height="3.0"/><rect x="109.46" y="360.20" width="3.0" height="3.0"/><rect x="110.03" y="358.65" width="3.0" height="3.0"/><rect x="110.16" y="360.97" width="3.0" height="3.0"/><rect x="111.06" y="358.24" width="3.0" height="3.0"/><rect x="111.49" y="360.30" width="3.0" height="3.0"/><rect x="111.60" y="357.37" width="3.0" height="3.0"/><rect x="112.19" y="359.88" width="3.0" height="3.0"/><rect x="113.36" y="358.01" width="3.0" height="3.0"/><rect x="113.65" y="360.20" width="3.0" height="3.0"/><rect x="114.41" y="357.85" width="3.0" height="3.0"/><rect x="114.31" y="359.98" width="3.0" height="3.0"/><rect x="115.10" y="356.93" width="3.0" height="3.0"/><rect x="115.04" y="359.30" width="3.0" height="3.0"/><rect x="115.90" y="357.39" width="3.0" height="3.0"/><rect x="116.64" y="359.32" width="3.0" height="3.0"/><rect x="117.57" y="356.78" width="3.0" height="3.0"/><rect x="117.37" y="359.64" width="3.0" height="3.0"/><rect x="118.42" y="356.83" width="3.0" height="3.0"/><rect x="118.56" y="359.63" width="3.0" height="3.0"/><rect x="119.58" y="357.13" width="3.0" height="3.0"/><rect x="119.30" y="359.81" width="3.0" height="3.0"/><rect x="120.05" y="356.41" width="3.0" height="3.0"/><rect x="120.29" y="358.99" width="3.0" height="3.0"/><rect x="121.78" y="356.54" width="3.0" height="3.0"/><rect x="121.36" y="359.51" width="3.0" height="3.0"/><rect x="122.27" y="356.36" width="3.0" height="3.0"/><rect x="122.80" y="358.92" width="3.0" height="3.0"/><rect x="123.56" y="356.62" width="3.0" height="3.0"/><rect x="123.86" y="359.37" width="3.0" height="3.0"/><rect x="124.67" y="356.77" width="3.0" height="3.0"/><rect x="124.75" y="359.38" width="3.0" height="3.0"/><rect x="125.56" y="356.79" width="3.0" height="3.0"/><rect x="125.29" y="359.21" width="3.0" height="3.0"/><rect x="126.57" y="357.02" width="3.0" height="3.0"/><rect x="126.67" y="358.63" width="3.0" height="3.0"/><rect x="127.10" y="357.18" width="3.0" height="3.0"/><rect x="127.69" y="358.75" width="3.0" height="3.0"/><rect x="128.23" y="357.04" width="3.0" height="3.0"/><rect x="128.00" y="358.75" width="3.0" height="3.0"/><rect x="129.67" y="356.74" width="3.0" height="3.0"/><rect x="129.51" y="359.58" width="3.0" height="3.0"/><rect x="130.59" y="357.52" width="3.0" height="3.0"/><rect x="130.62" y="359.30" width="3.0" height="3.0"/><rect x="131.92" y="356.77" width="3.0" height="3.0"/><rect x="131.70" y="359.05" width="3.0" height="3.0"/><rect x="132.98" y="356.75" width="3.0" height="3.0"/><rect x="132.19" y="359.18" width="3.0" height="3.0"/><rect x="133.25" y="357.73" width="3.0" height="3.0"/><rect x="133.50" y="360.08" width="3.0" height="3.0"/><rect x="134.97" y="357.32" width="3.0" height="3.0"/><rect x="134.12" y="360.00" width="3.0" height="3.0"/><rect x="135.30" y="358.07" width="3.0" height="3.0"/><rect x="135.03" y="360.30" width="3.0" height="3.0"/><rect x="136.60" y="357.99" width="3.0" height="3.0"/><rect x="136.20" y="359.64" width="3.0" height="3.0"/><rect x="137.83" y="358.19" width="3.0" height="3.0"/><rect x="137.19" y="360.19" width="3.0" height="3.0"/><rect x="139.22" y="357.73" width="3.0" height="3.0"/><rect x="137.93" y="360.76" width="3.0" height="3.0"/><rect x="139.59" y="359.08" width="3.0" height="3.0"/><rect x="139.12" y="360.74" width="3.0" height="3.0"/><rect x="140.85" y="359.16" width="3.0" height="3.0"/><rect x="139.50" y="361.24" width="3.0" height="3.0"/><rect x="141.47" y="359.03" width="3.0" height="3.0"/><rect x="140.21" y="361.93" width="3.0" height="3.0"/><rect x="142.19" y="360.41" width="3.0" height="3.0"/><rect x="141.40" y="362.04" width="3.0" height="3.0"/><rect x="143.17" y="361.06" width="3.0" height="3.0"/><rect x="142.20" y="362.46" width="3.0" height="3.0"/><rect x="144.06" y="361.55" width="3.0" height="3.0"/><rect x="143.09" y="362.99" width="3.0" height="3.0"/><rect x="145.22" y="362.14" width="3.0" height="3.0"/><rect x="143.39" y="363.58" width="3.0" height="3.0"/><rect x="144.38" y="362.21" width="3.0" height="3.0"/><rect x="145.44" y="364.20" width="3.0" height="3.0"/><rect x="145.74" y="362.43" width="3.0" height="3.0"/><rect x="146.68" y="364.39" width="3.0" height="3.0"/><rect x="145.97" y="361.48" width="3.0" height="3.0"/><rect x="147.06" y="363.69" width="3.0" height="3.0"/><rect x="147.01" y="360.66" width="3.0" height="3.0"/><rect x="147.28" y="363.94" width="3.0" height="3.0"/><rect x="148.22" y="361.32" width="3.0" height="3.0"/><rect x="148.67" y="363.85" width="3.0" height="3.0"/><rect x="149.70" y="361.03" width="3.0" height="3.0"/><rect x="149.56" y="363.01" width="3.0" height="3.0"/><rect x="150.58" y="360.76" width="3.0" height="3.0"/><rect x="150.77" y="363.49" width="3.0" height="3.0"/><rect x="151.26" y="360.86" width="3.0" height="3.0"/><rect x="151.86" y="362.72" width="3.0" height="3.0"/><rect x="152.56" y="360.42" width="3.0" height="3.0"/><rect x="152.53" y="362.64" width="3.0" height="3.0"/><rect x="153.68" y="360.19" width="3.0" height="3.0"/><rect x="153.41" y="362.49" width="3.0" height="3.0"/><rect x="154.33" y="360.14" width="3.0" height="3.0"/><rect x="154.18" y="362.63" width="3.0" height="3.0"/><rect x="155.71" y="360.41" width="3.0" height="3.0"/><rect x="154.98" y="362.67" width="3.0" height="3.0"/><rect x="156.16" y="360.99" width="3.0" height="3.0"/><rect x="155.86" y="363.15" width="3.0" height="3.0"/><rect x="156.97" y="360.98" width="3.0" height="3.0"/><rect x="157.18" y="363.73" width="3.0" height="3.0"/><rect x="158.48" y="361.30" width="3.0" height="3.0"/><rect x="157.89" y="362.83" width="3.0" height="3.0"/><rect x="159.33" y="360.39" width="3.0" height="3.0"/><rect x="158.79" y="363.60" width="3.0" height="3.0"/><rect x="160.04" y="361.34" width="3.0" height="3.0"/><rect x="159.57" y="362.98" width="3.0" height="3.0"/><rect x="160.49" y="361.20" width="3.0" height="3.0"/><rect x="160.92" y="363.38" width="3.0" height="3.0"/><rect x="161.80" y="360.93" width="3.0" height="3.0"/><rect x="161.54" y="363.71" width="3.0" height="3.0"/><rect x="162.74" y="361.62" width="3.0" height="3.0"/><rect x="162.70" y="363.53" width="3.0" height="3.0"/><rect x="163.44" y="360.83" width="3.0" height="3.0"/><rect x="163.70" y="363.79" width="3.0" height="3.0"/><rect x="164.21" y="361.38" width="3.0" height="3.0"/><rect x="164.73" y="363.96" width="3.0" height="3.0"/><rect x="165.51" y="360.98" width="3.0" height="3.0"/><rect x="165.49" y="364.10" width="3.0" height="3.0"/><rect x="166.24" y="361.13" width="3.0" height="3.0"/><rect x="166.38" y="363.50" width="3.0" height="3.0"/><rect x="167.14" y="361.74" width="3.0" height="3.0"/><rect x="167.37" y="364.03" width="3.0" height="3.0"/><rect x="167.93" y="361.14" width="3.0" height="3.0"/><rect x="168.09" y="363.62" width="3.0" height="3.0"/><rect x="168.98" y="361.15" width="3.0" height="3.0"/><rect x="169.39" y="363.91" width="3.0" height="3.0"/><rect x="170.10" y="361.64" width="3.0" height="3.0"/><rect x="169.89" y="364.02" width="3.0" height="3.0"/><rect x="171.28" y="361.30" width="3.0" height="3.0"/><rect x="170.93" y="363.19" width="3.0" height="3.0"/><rect x="172.94" y="368.23" width="3.0" height="3.0"/><rect x="175.13" y="369.05" width="3.0" height="3.0"/><rect x="173.14" y="367.38" width="3.0" height="3.0"/><rect x="175.16" y="368.03" width="3.0" height="3.0"/><rect x="173.05" y="366.35" width="3.0" height="3.0"/><rect x="175.61" y="367.26" width="3.0" height="3.0"/><rect x="173.71" y="365.52" width="3.0" height="3.0"/><rect x="175.38" y="366.16" width="3.0" height="3.0"/><rect x="174.12" y="364.25" width="3.0" height="3.0"/><rect x="175.66" y="365.54" width="3.0" height="3.0"/><rect x="174.48" y="363.33" width="3.0" height="3.0"/><rect x="176.21" y="364.71" width="3.0" height="3.0"/><rect x="176.28" y="362.45" width="3.0" height="3.0"/><rect x="176.92" y="364.19" width="3.0" height="3.0"/><rect x="176.94" y="361.87" width="3.0" height="3.0"/><rect x="177.78" y="363.76" width="3.0" height="3.0"/><rect x="177.87" y="361.02" width="3.0" height="3.0"/><rect x="178.70" y="363.54" width="3.0" height="3.0"/><rect x="178.64" y="361.40" width="3.0" height="3.0"/><rect x="179.53" y="363.23" width="3.0" height="3.0"/><rect x="179.74" y="360.74" width="3.0" height="3.0"/><rect x="180.33" y="363.39" width="3.0" height="3.0"/><rect x="181.03" y="361.16" width="3.0" height="3.0"/><rect x="181.23" y="363.05" width="3.0" height="3.0"/><rect x="181.63" y="360.30" width="3.0" height="3.0"/><rect x="181.86" y="362.97" width="3.0" height="3.0"/><rect x="182.03" y="360.38" width="3.0" height="3.0"/><rect x="182.88" y="363.15" width="3.0" height="3.0"/><rect x="183.14" y="359.81" width="3.0" height="3.0"/><rect x="183.42" y="362.47" width="3.0" height="3.0"/><rect x="184.07" y="360.18" width="3.0" height="3.0"/><rect x="184.68" y="361.95" width="3.0" height="3.0"/><rect x="185.07" y="360.24" width="3.0" height="3.0"/><rect x="185.46" y="362.18" width="3.0" height="3.0"/><rect x="186.30" y="359.98" width="3.0" height="3.0"/><rect x="186.35" y="362.48" width="3.0" height="3.0"/><rect x="187.35" y="359.32" width="3.0" height="3.0"/><rect x="187.59" y="361.71" width="3.0" height="3.0"/><rect x="188.24" y="359.24" width="3.0" height="3.0"/><rect x="188.54" y="361.70" width="3.0" height="3.0"/><rect x="188.59" y="359.45" width="3.0" height="3.0"/><rect x="189.56" y="361.46" width="3.0" height="3.0"/><rect x="189.72" y="359.32" width="3.0" height="3.0"/><rect x="189.86" y="361.46" width="3.0" height="3.0"/><rect x="191.12" y="359.69" width="3.0" height="3.0"/><rect x="190.83" y="361.63" width="3.0" height="3.0"/><rect x="191.99" y="358.85" width="3.0" height="3.0"/><rect x="192.34" y="361.33" width="3.0" height="3.0"/><rect x="192.96" y="359.08" width="3.0" height="3.0"/><rect x="193.34" y="361.79" width="3.0" height="3.0"/><rect x="193.92" y="358.78" width="3.0" height="3.0"/><rect x="194.06" y="361.17" width="3.0" height="3.0"/><rect x="194.81" y="358.96" width="3.0" height="3.0"/><rect x="195.18" y="361.33" width="3.0" height="3.0"/><rect x="195.36" y="358.84" width="3.0" height="3.0"/><rect x="195.50" y="361.01" width="3.0" height="3.0"/><rect x="196.14" y="358.80" width="3.0" height="3.0"/><rect x="196.46" y="361.17" width="3.0" height="3.0"/><rect x="197.43" y="358.71" width="3.0" height="3.0"/><rect x="197.99" y="361.15" width="3.0" height="3.0"/><rect x="198.67" y="359.15" width="3.0" height="3.0"/><rect x="198.73" y="360.96" width="3.0" height="3.0"/><rect x="199.45" y="358.28" width="3.0" height="3.0"/><rect x="199.50" y="360.71" width="3.0" height="3.0"/><rect x="199.69" y="357.81" width="3.0" height="3.0"/><rect x="200.62" y="360.86" width="3.0" height="3.0"/><rect x="201.18" y="358.70" width="3.0" height="3.0"/><rect x="201.77" y="360.77" width="3.0" height="3.0"/><rect x="202.33" y="358.22" width="3.0" height="3.0"/><rect x="202.28" y="360.44" width="3.0" height="3.0"/><rect x="202.37" y="357.45" width="3.0" height="3.0"/><rect x="203.33" y="360.53" width="3.0" height="3.0"/><rect x="204.03" y="357.93" width="3.0" height="3.0"/><rect x="204.04" y="359.99" width="3.0" height="3.0"/><rect x="204.82" y="357.58" width="3.0" height="3.0"/><rect x="204.89" y="359.68" width="3.0" height="3.0"/><rect x="205.57" y="357.55" width="3.0" height="3.0"/><rect x="205.78" y="360.22" width="3.0" height="3.0"/><rect x="206.28" y="356.96" width="3.0" height="3.0"/><rect x="206.61" y="359.72" width="3.0" height="3.0"/><rect x="207.69" y="357.18" width="3.0" height="3.0"/><rect x="207.95" y="359.75" width="3.0" height="3.0"/><rect x="208.09" y="357.23" width="3.0" height="3.0"/><rect x="208.62" y="359.21" width="3.0" height="3.0"/><rect x="209.32" y="356.75" width="3.0" height="3.0"/><rect x="209.59" y="358.78" width="3.0" height="3.0"/><rect x="209.98" y="356.33" width="3.0" height="3.0"/><rect x="210.15" y="358.65" width="3.0" height="3.0"/><rect x="210.75" y="357.16" width="3.0" height="3.0"/><rect x="211.45" y="359.47" width="3.0" height="3.0"/><rect x="212.01" y="356.30" width="3.0" height="3.0"/><rect x="212.35" y="359.32" width="3.0" height="3.0"/><rect x="212.79" y="356.20" width="3.0" height="3.0"/><rect x="213.20" y="358.94" width="3.0" height="3.0"/><rect x="213.35" y="355.99" width="3.0" height="3.0"/><rect x="213.98" y="358.76" width="3.0" height="3.0"/><rect x="214.15" y="355.76" width="3.0" height="3.0"/><rect x="214.46" y="358.08" width="3.0" height="3.0"/><rect x="215.70" y="355.60" width="3.0" height="3.0"/><rect x="215.70" y="358.47" width="3.0" height="3.0"/><rect x="216.50" y="355.41" width="3.0" height="3.0"/><rect x="216.50" y="358.23" width="3.0" height="3.0"/><rect x="217.20" y="355.85" width="3.0" height="3.0"/><rect x="217.51" y="357.82" width="3.0" height="3.0"/><rect x="218.46" y="355.34" width="3.0" height="3.0"/><rect x="218.48" y="357.39" width="3.0" height="3.0"/><rect x="218.81" y="355.87" width="3.0" height="3.0"/><rect x="219.51" y="358.09" width="3.0" height="3.0"/><rect x="219.83" y="354.76" width="3.0" height="3.0"/><rect x="220.14" y="357.07" width="3.0" height="3.0"/><rect x="221.19" y="354.98" width="3.0" height="3.0"/><rect x="221.27" y="358.01" width="3.0" height="3.0"/><rect x="221.45" y="355.04" width="3.0" height="3.0"/><rect x="221.91" y="357.50" width="3.0" height="3.0"/><rect x="222.33" y="355.19" width="3.0" height="3.0"/><rect x="223.09" y="356.65" width="3.0" height="3.0"/><rect x="224.00" y="355.09" width="3.0" height="3.0"/><rect x="224.15" y="356.61" width="3.0" height="3.0"/><rect x="224.15" y="354.95" width="3.0" height="3.0"/><rect x="224.66" y="357.17" width="3.0" height="3.0"/><rect x="225.09" y="354.14" width="3.0" height="3.0"/><rect x="225.88" y="356.29" width="3.0" height="3.0"/><rect x="226.53" y="354.02" width="3.0" height="3.0"/><rect x="226.35" y="356.91" width="3.0" height="3.0"/><rect x="227.33" y="353.98" width="3.0" height="3.0"/><rect x="227.89" y="356.47" width="3.0" height="3.0"/><rect x="228.51" y="354.26" width="3.0" height="3.0"/><rect x="228.10" y="356.62" width="3.0" height="3.0"/><rect x="229.20" y="354.39" width="3.0" height="3.0"/><rect x="229.08" y="356.60" width="3.0" height="3.0"/><rect x="230.12" y="353.92" width="3.0" height="3.0"/><rect x="230.50" y="355.74" width="3.0" height="3.0"/><rect x="230.46" y="353.59" width="3.0" height="3.0"/><rect x="231.21" y="355.82" width="3.0" height="3.0"/><rect x="231.87" y="353.51" width="3.0" height="3.0"/><rect x="232.25" y="355.44" width="3.0" height="3.0"/><rect x="232.71" y="353.46" width="3.0" height="3.0"/><rect x="233.00" y="355.83" width="3.0" height="3.0"/><rect x="233.73" y="353.26" width="3.0" height="3.0"/><rect x="234.27" y="356.00" width="3.0" height="3.0"/><rect x="234.21" y="352.88" width="3.0" height="3.0"/><rect x="235.14" y="354.85" width="3.0" height="3.0"/><rect x="235.52" y="352.55" width="3.0" height="3.0"/><rect x="235.81" y="354.97" width="3.0" height="3.0"/><rect x="236.37" y="352.07" width="3.0" height="3.0"/><rect x="236.54" y="355.08" width="3.0" height="3.0"/><rect x="237.45" y="352.50" width="3.0" height="3.0"/><rect x="237.71" y="354.66" width="3.0" height="3.0"/><rect x="238.32" y="352.13" width="3.0" height="3.0"/><rect x="238.39" y="354.95" width="3.0" height="3.0"/><rect x="238.86" y="352.61" width="3.0" height="3.0"/><rect x="239.46" y="354.35" width="3.0" height="3.0"/><rect x="240.09" y="351.53" width="3.0" height="3.0"/><rect x="240.49" y="353.75" width="3.0" height="3.0"/><rect x="240.99" y="351.36" width="3.0" height="3.0"/><rect x="241.06" y="354.16" width="3.0" height="3.0"/><rect x="241.84" y="351.14" width="3.0" height="3.0"/><rect x="242.51" y="354.10" width="3.0" height="3.0"/><rect x="242.28" y="351.51" width="3.0" height="3.0"/><rect x="243.30" y="353.78" width="3.0" height="3.0"/><rect x="243.76" y="351.49" width="3.0" height="3.0"/><rect x="243.84" y="354.01" width="3.0" height="3.0"/><rect x="244.52" y="350.87" width="3.0" height="3.0"/><rect x="244.63" y="353.32" width="3.0" height="3.0"/><rect x="245.57" y="351.08" width="3.0" height="3.0"/><rect x="245.81" y="353.50" width="3.0" height="3.0"/><rect x="246.56" y="351.08" width="3.0" height="3.0"/><rect x="246.54" y="353.30" width="3.0" height="3.0"/><rect x="247.44" y="350.36" width="3.0" height="3.0"/><rect x="247.70" y="353.25" width="3.0" height="3.0"/><rect x="248.12" y="350.30" width="3.0" height="3.0"/><rect x="248.20" y="352.30" width="3.0" height="3.0"/><rect x="249.19" y="350.44" width="3.0" height="3.0"/><rect x="249.44" y="352.32" width="3.0" height="3.0"/><rect x="250.11" y="350.00" width="3.0" height="3.0"/><rect x="249.74" y="351.92" width="3.0" height="3.0"/><rect x="251.67" y="357.15" width="3.0" height="3.0"/><rect x="254.36" y="357.65" width="3.0" height="3.0"/><rect x="251.92" y="356.20" width="3.0" height="3.0"/><rect x="254.87" y="356.76" width="3.0" height="3.0"/><rect x="252.31" y="355.26" width="3.0" height="3.0"/><rect x="254.97" y="355.63" width="3.0" height="3.0"/><rect x="252.50" y="354.18" width="3.0" height="3.0"/><rect x="255.17" y="354.75" width="3.0" height="3.0"/><rect x="252.97" y="352.67" width="3.0" height="3.0"/><rect x="255.95" y="354.44" width="3.0" height="3.0"/><rect x="253.93" y="351.78" width="3.0" height="3.0"/><rect x="255.28" y="353.14" width="3.0" height="3.0"/><rect x="254.45" y="351.29" width="3.0" height="3.0"/><rect x="255.70" y="352.17" width="3.0" height="3.0"/><rect x="255.87" y="349.70" width="3.0" height="3.0"/><rect x="256.75" y="352.00" width="3.0" height="3.0"/><rect x="255.99" y="349.01" width="3.0" height="3.0"/><rect x="257.26" y="351.82" width="3.0" height="3.0"/><rect x="257.90" y="349.52" width="3.0" height="3.0"/><rect x="258.17" y="351.14" width="3.0" height="3.0"/><rect x="258.61" y="348.65" width="3.0" height="3.0"/><rect x="259.08" y="351.26" width="3.0" height="3.0"/><rect x="258.94" y="348.53" width="3.0" height="3.0"/><rect x="260.57" y="351.25" width="3.0" height="3.0"/><rect x="260.00" y="348.41" width="3.0" height="3.0"/><rect x="260.52" y="350.23" width="3.0" height="3.0"/><rect x="261.58" y="347.51" width="3.0" height="3.0"/><rect x="261.37" y="350.72" width="3.0" height="3.0"/><rect x="262.44" y="347.49" width="3.0" height="3.0"/><rect x="263.09" y="350.36" width="3.0" height="3.0"/><rect x="263.11" y="348.15" width="3.0" height="3.0"/><rect x="264.07" y="350.33" width="3.0" height="3.0"/><rect x="264.13" y="347.31" width="3.0" height="3.0"/><rect x="264.90" y="350.00" width="3.0" height="3.0"/><rect x="265.25" y="347.79" width="3.0" height="3.0"/><rect x="265.34" y="349.48" width="3.0" height="3.0"/><rect x="266.06" y="347.22" width="3.0" height="3.0"/><rect x="266.35" y="349.31" width="3.0" height="3.0"/><rect x="266.90" y="346.86" width="3.0" height="3.0"/><rect x="267.47" y="349.69" width="3.0" height="3.0"/><rect x="268.76" y="347.41" width="3.0" height="3.0"/><rect x="268.95" y="348.99" width="3.0" height="3.0"/><rect x="269.53" y="346.38" width="3.0" height="3.0"/><rect x="269.46" y="348.79" width="3.0" height="3.0"/><rect x="270.57" y="347.13" width="3.0" height="3.0"/><rect x="270.61" y="349.46" width="3.0" height="3.0"/><rect x="270.96" y="346.62" width="3.0" height="3.0"/><rect x="271.40" y="349.33" width="3.0" height="3.0"/><rect x="271.69" y="346.32" width="3.0" height="3.0"/><rect x="271.89" y="348.56" width="3.0" height="3.0"/><rect x="272.92" y="346.12" width="3.0" height="3.0"/><rect x="273.44" y="348.36" width="3.0" height="3.0"/><rect x="273.77" y="346.50" width="3.0" height="3.0"/><rect x="273.87" y="348.26" width="3.0" height="3.0"/><rect x="274.54" y="345.76" width="3.0" height="3.0"/><rect x="274.96" y="348.17" width="3.0" height="3.0"/><rect x="275.98" y="346.23" width="3.0" height="3.0"/><rect x="276.25" y="348.00" width="3.0" height="3.0"/><rect x="276.91" y="346.41" width="3.0" height="3.0"/><rect x="276.62" y="348.51" width="3.0" height="3.0"/><rect x="277.28" y="345.83" width="3.0" height="3.0"/><rect x="277.46" y="347.94" width="3.0" height="3.0"/><rect x="278.75" y="345.85" width="3.0" height="3.0"/><rect x="279.07" y="348.65" width="3.0" height="3.0"/><rect x="279.17" y="346.02" width="3.0" height="3.0"/><rect x="279.30" y="348.41" width="3.0" height="3.0"/><rect x="280.02" y="345.20" width="3.0" height="3.0"/><rect x="280.22" y="348.38" width="3.0" height="3.0"/><rect x="280.98" y="344.98" width="3.0" height="3.0"/><rect x="281.02" y="347.32" width="3.0" height="3.0"/><rect x="282.06" y="344.83" width="3.0" height="3.0"/><rect x="282.31" y="347.25" width="3.0" height="3.0"/><rect x="282.74" y="344.62" width="3.0" height="3.0"/><rect x="283.07" y="347.55" width="3.0" height="3.0"/><rect x="284.23" y="345.31" width="3.0" height="3.0"/><rect x="284.07" y="347.58" width="3.0" height="3.0"/><rect x="284.63" y="345.29" width="3.0" height="3.0"/><rect x="285.23" y="347.34" width="3.0" height="3.0"/><rect x="285.64" y="344.95" width="3.0" height="3.0"/><rect x="286.34" y="347.22" width="3.0" height="3.0"/><rect x="286.80" y="344.23" width="3.0" height="3.0"/><rect x="286.71" y="346.64" width="3.0" height="3.0"/><rect x="287.61" y="344.19" width="3.0" height="3.0"/><rect x="287.71" y="347.10" width="3.0" height="3.0"/><rect x="288.47" y="343.98" width="3.0" height="3.0"/><rect x="289.31" y="347.10" width="3.0" height="3.0"/><rect x="289.20" y="344.21" width="3.0" height="3.0"/><rect x="289.95" y="347.05" width="3.0" height="3.0"/><rect x="290.29" y="343.66" width="3.0" height="3.0"/><rect x="291.07" y="346.13" width="3.0" height="3.0"/><rect x="291.22" y="344.10" width="3.0" height="3.0"/><rect x="291.84" y="346.21" width="3.0" height="3.0"/><rect x="292.49" y="344.38" width="3.0" height="3.0"/><rect x="292.73" y="346.16" width="3.0" height="3.0"/><rect x="293.65" y="344.11" width="3.0" height="3.0"/><rect x="293.83" y="346.46" width="3.0" height="3.0"/><rect x="294.59" y="343.87" width="3.0" height="3.0"/><rect x="294.67" y="345.95" width="3.0" height="3.0"/><rect x="295.67" y="344.14" width="3.0" height="3.0"/><rect x="295.43" y="346.57" width="3.0" height="3.0"/><rect x="296.33" y="343.61" width="3.0" height="3.0"/><rect x="295.98" y="346.08" width="3.0" height="3.0"/><rect x="297.02" y="343.08" width="3.0" height="3.0"/><rect x="296.98" y="345.67" width="3.0" height="3.0"/><rect x="298.45" y="343.86" width="3.0" height="3.0"/><rect x="297.92" y="345.47" width="3.0" height="3.0"/><rect x="298.89" y="343.33" width="3.0" height="3.0"/><rect x="299.26" y="345.44" width="3.0" height="3.0"/><rect x="300.10" y="343.45" width="3.0" height="3.0"/><rect x="299.83" y="346.18" width="3.0" height="3.0"/><rect x="301.19" y="343.10" width="3.0" height="3.0"/><rect x="300.77" y="345.42" width="3.0" height="3.0"/><rect x="301.97" y="343.50" width="3.0" height="3.0"/><rect x="301.72" y="345.66" width="3.0" height="3.0"/><rect x="302.63" y="343.57" width="3.0" height="3.0"/><rect x="303.26" y="345.99" width="3.0" height="3.0"/><rect x="303.93" y="343.84" width="3.0" height="3.0"/><rect x="303.66" y="346.14" width="3.0" height="3.0"/><rect x="305.15" y="343.06" width="3.0" height="3.0"/><rect x="304.80" y="345.72" width="3.0" height="3.0"/><rect x="305.76" y="343.02" width="3.0" height="3.0"/><rect x="306.16" y="345.70" width="3.0" height="3.0"/><rect x="306.56" y="343.07" width="3.0" height="3.0"/><rect x="306.61" y="345.51" width="3.0" height="3.0"/><rect x="308.02" y="343.43" width="3.0" height="3.0"/><rect x="308.03" y="346.12" width="3.0" height="3.0"/><rect x="308.85" y="342.98" width="3.0" height="3.0"/><rect x="308.64" y="345.25" width="3.0" height="3.0"/><rect x="309.86" y="342.80" width="3.0" height="3.0"/><rect x="309.52" y="345.45" width="3.0" height="3.0"/><rect x="311.19" y="343.40" width="3.0" height="3.0"/><rect x="309.43" y="345.51" width="3.0" height="3.0"/><rect x="312.07" y="344.23" width="3.0" height="3.0"/><rect x="310.72" y="345.70" width="3.0" height="3.0"/><rect x="313.54" y="344.39" width="3.0" height="3.0"/><rect x="311.41" y="347.18" width="3.0" height="3.0"/><rect x="314.42" y="345.19" width="3.0" height="3.0"/><rect x="311.87" y="347.78" width="3.0" height="3.0"/><rect x="313.04" y="346.04" width="3.0" height="3.0"/><rect x="314.81" y="348.19" width="3.0" height="3.0"/><rect x="314.49" y="345.43" width="3.0" height="3.0"/><rect x="315.61" y="347.44" width="3.0" height="3.0"/><rect x="314.96" y="344.75" width="3.0" height="3.0"/><rect x="316.72" y="347.02" width="3.0" height="3.0"/><rect x="316.14" y="344.23" width="3.0" height="3.0"/><rect x="317.22" y="345.61" width="3.0" height="3.0"/><rect x="317.29" y="342.59" width="3.0" height="3.0"/><rect x="317.59" y="345.24" width="3.0" height="3.0"/><rect x="318.01" y="342.94" width="3.0" height="3.0"/><rect x="318.26" y="344.96" width="3.0" height="3.0"/><rect x="319.21" y="343.08" width="3.0" height="3.0"/><rect x="319.33" y="345.02" width="3.0" height="3.0"/><rect x="320.30" y="343.19" width="3.0" height="3.0"/><rect x="320.65" y="345.51" width="3.0" height="3.0"/><rect x="321.27" y="342.53" width="3.0" height="3.0"/><rect x="321.60" y="344.68" width="3.0" height="3.0"/><rect x="322.16" y="342.53" width="3.0" height="3.0"/><rect x="322.42" y="345.01" width="3.0" height="3.0"/><rect x="322.89" y="342.57" width="3.0" height="3.0"/><rect x="323.35" y="344.45" width="3.0" height="3.0"/><rect x="324.11" y="342.37" width="3.0" height="3.0"/><rect x="324.14" y="344.10" width="3.0" height="3.0"/><rect x="324.71" y="341.71" width="3.0" height="3.0"/><rect x="325.29" y="344.58" width="3.0" height="3.0"/><rect x="326.35" y="342.23" width="3.0" height="3.0"/><rect x="326.43" y="344.17" width="3.0" height="3.0"/><rect x="326.59" y="342.25" width="3.0" height="3.0"/><rect x="327.20" y="344.68" width="3.0" height="3.0"/><rect x="327.81" y="342.23" width="3.0" height="3.0"/><rect x="328.33" y="344.08" width="3.0" height="3.0"/><rect x="328.63" y="342.06" width="3.0" height="3.0"/><rect x="329.36" y="344.53" width="3.0" height="3.0"/><rect x="329.77" y="341.88" width="3.0" height="3.0"/><rect x="330.04" y="343.74" width="3.0" height="3.0"/><rect x="93.39" y="386.95" width="3.0" height="3.0"/><rect x="94.44" y="387.06" width="3.0" height="3.0"/><rect x="93.30" y="385.97" width="3.0" height="3.0"/><rect x="94.44" y="386.08" width="3.0" height="3.0"/><rect x="93.33" y="384.98" width="3.0" height="3.0"/><rect x="94.34" y="385.10" width="3.0" height="3.0"/><rect x="92.79" y="384.00" width="3.0" height="3.0"/><rect x="94.70" y="384.12" width="3.0" height="3.0"/><rect x="93.87" y="383.04" width="3.0" height="3.0"/><rect x="94.52" y="383.13" width="3.0" height="3.0"/><rect x="93.70" y="382.01" width="3.0" height="3.0"/><rect x="94.59" y="382.18" width="3.0" height="3.0"/><rect x="93.71" y="381.04" width="3.0" height="3.0"/><rect x="94.72" y="381.19" width="3.0" height="3.0"/><rect x="93.96" y="380.04" width="3.0" height="3.0"/><rect x="94.67" y="380.16" width="3.0" height="3.0"/><rect x="94.08" y="379.01" width="3.0" height="3.0"/><rect x="94.97" y="379.17" width="3.0" height="3.0"/><rect x="94.16" y="378.06" width="3.0" height="3.0"/><rect x="94.98" y="378.14" width="3.0" height="3.0"/><rect x="93.87" y="377.02" width="3.0" height="3.0"/><rect x="95.41" y="377.20" width="3.0" height="3.0"/><rect x="94.45" y="375.92" width="3.0" height="3.0"/><rect x="95.45" y="376.30" width="3.0" height="3.0"/><rect x="95.03" y="374.95" width="3.0" height="3.0"/><rect x="95.00" y="375.11" width="3.0" height="3.0"/><rect x="94.87" y="373.88" width="3.0" height="3.0"/><rect x="96.40" y="374.21" width="3.0" height="3.0"/><rect x="95.55" y="372.85" width="3.0" height="3.0"/><rect x="96.21" y="373.11" width="3.0" height="3.0"/><rect x="95.23" y="371.79" width="3.0" height="3.0"/><rect x="96.43" y="372.04" width="3.0" height="3.0"/><rect x="96.16" y="370.75" width="3.0" height="3.0"/><rect x="96.81" y="371.12" width="3.0" height="3.0"/><rect x="96.19" y="369.89" width="3.0" height="3.0"/><rect x="97.02" y="370.14" width="3.0" height="3.0"/><rect x="96.65" y="368.86" width="3.0" height="3.0"/><rect x="97.64" y="369.34" width="3.0" height="3.0"/><rect x="96.87" y="367.97" width="3.0" height="3.0"/><rect x="97.88" y="368.43" width="3.0" height="3.0"/><rect x="97.31" y="367.03" width="3.0" height="3.0"/><rect x="97.70" y="367.33" width="3.0" height="3.0"/><rect x="97.50" y="365.80" width="3.0" height="3.0"/><rect x="98.01" y="366.62" width="3.0" height="3.0"/><rect x="98.09" y="364.98" width="3.0" height="3.0"/><rect x="99.52" y="365.89" width="3.0" height="3.0"/><rect x="98.53" y="364.13" width="3.0" height="3.0"/><rect x="99.27" y="364.78" width="3.0" height="3.0"/><rect x="99.43" y="363.43" width="3.0" height="3.0"/><rect x="99.85" y="363.94" width="3.0" height="3.0"/><rect x="100.58" y="362.30" width="3.0" height="3.0"/><rect x="100.89" y="363.33" width="3.0" height="3.0"/><rect x="171.90" y="366.50" width="3.0" height="3.0"/><rect x="171.90" y="369.50" width="3.0" height="3.0"/><rect x="171.90" y="372.50" width="3.0" height="3.0"/><rect x="171.90" y="375.50" width="3.0" height="3.0"/><rect x="171.90" y="378.50" width="3.0" height="3.0"/><rect x="171.90" y="381.50" width="3.0" height="3.0"/><rect x="171.90" y="384.50" width="3.0" height="3.0"/><rect x="171.90" y="387.50" width="3.0" height="3.0"/><rect x="171.90" y="390.50" width="3.0" height="3.0"/><rect x="171.90" y="393.50" width="3.0" height="3.0"/><rect x="171.90" y="395.50" width="3.0" height="3.0"/><rect x="251.40" y="352.50" width="3.0" height="3.0"/><rect x="251.40" y="356.50" width="3.0" height="3.0"/><rect x="251.40" y="360.50" width="3.0" height="3.0"/><rect x="251.40" y="364.50" width="3.0" height="3.0"/><rect x="251.40" y="368.50" width="3.0" height="3.0"/><rect x="251.40" y="371.50" width="3.0" height="3.0"/><rect x="251.40" y="374.50" width="3.0" height="3.0"/><rect x="93.40" y="379.50" width="3.0" height="3.0"/><rect x="93.40" y="383.50" width="3.0" height="3.0"/><rect x="93.40" y="387.50" width="3.0" height="3.0"/><rect x="92.50" y="346.90" width="3.0" height="3.0"/><rect x="93.20" y="363.00" width="3.0" height="3.0"/><rect x="92.60" y="439.10" width="3.0" height="3.0"/><rect x="92.60" y="449.50" width="3.0" height="3.0"/><rect x="144.50" y="328.40" width="3.0" height="3.0"/><rect x="144.50" y="344.50" width="3.0" height="3.0"/><rect x="144.50" y="355.90" width="3.0" height="3.0"/><rect x="214.80" y="330.50" width="3.0" height="3.0"/><rect x="214.80" y="348.50" width="3.0" height="3.0"/><rect x="214.80" y="354.50" width="3.0" height="3.0"/><rect x="260.40" y="359.40" width="3.0" height="3.0"/><rect x="313.80" y="337.70" width="3.0" height="3.0"/><rect x="316.90" y="380.60" width="3.0" height="3.0"/><rect x="250.40" y="373.40" width="3.0" height="3.0"/><rect x="250.40" y="370.90" width="3.0" height="3.0"/></g>
<polyline points="96.60,399.50 97.50,396.00 98.60,392.10 100.00,386.50 101.10,383.60 103.00,377.50 105.00,373.00 107.10,369.50 109.60,364.50 111.40,362.50 113.50,359.00 115.70,356.10 117.50,352.60 119.10,350.30 122.10,347.60 127.90,343.30 133.60,340.40 139.30,338.70 145.00,337.60 150.00,337.00 160.00,336.00 173.20,334.60" fill="none" stroke="#666666" stroke-width="3.2" stroke-linejoin="round" stroke-linecap="round"/>
<polyline points="176.00,364.00 176.40,360.00 176.90,355.00 177.80,349.50 179.00,346.00 181.00,343.50 186.40,341.10 192.00,339.50 197.90,338.30 201.40,337.60" fill="none" stroke="#666666" stroke-width="3.2" stroke-linejoin="round" stroke-linecap="round"/>
<polyline points="205.10,366.30 205.80,360.00 206.90,354.30 208.30,349.50 210.30,345.70 215.40,341.40 222.30,338.90 229.10,337.10 236.00,335.10 239.40,335.80 244.60,333.20 251.40,331.10" fill="none" stroke="#666666" stroke-width="3.4" stroke-linejoin="round" stroke-linecap="round"/>
<polyline points="260.00,333.60 264.00,332.40 270.00,332.20 280.00,331.60 290.00,329.40 300.00,327.80 310.00,327.00 320.00,326.10 331.00,324.80" fill="none" stroke="#666666" stroke-width="5.6" stroke-linejoin="round" stroke-linecap="round"/>
<polyline points="254.20,344.50 255.30,340.00 257.10,335.80 260.00,333.60" fill="none" stroke="#666666" stroke-width="3.6" stroke-linejoin="round" stroke-linecap="round"/>
<path d="M93.60 400.67L96.80 400.67L95.20 397.79ZM95.92 401.12L99.12 401.12L97.52 398.24ZM94.93 399.64L98.13 399.64L96.53 396.76ZM95.20 399.79L98.40 399.79L96.80 396.91ZM94.32 398.26L97.52 398.26L95.92 395.38ZM96.44 398.89L99.64 398.89L98.04 396.01ZM95.13 397.21L98.33 397.21L96.73 394.33ZM96.48 397.57L99.68 397.57L98.08 394.69ZM95.71 396.22L98.91 396.22L97.31 393.34ZM97.04 396.73L100.24 396.73L98.64 393.85ZM95.94 395.42L99.14 395.42L97.54 392.54ZM97.35 395.83L100.55 395.83L98.95 392.95ZM96.26 394.46L99.46 394.46L97.86 391.58ZM97.84 394.76L101.04 394.76L99.44 391.88ZM96.25 393.29L99.45 393.29L97.85 390.41ZM96.75 393.58L99.95 393.58L98.35 390.70ZM95.89 392.11L99.09 392.11L97.49 389.23ZM98.32 392.71L101.52 392.71L99.92 389.83ZM97.06 391.22L100.26 391.22L98.66 388.34ZM98.09 391.35L101.29 391.35L99.69 388.47ZM96.77 389.94L99.97 389.94L98.37 387.06ZM98.50 390.37L101.70 390.37L100.10 387.49ZM98.30 389.03L101.50 389.03L99.90 386.15ZM99.44 389.30L102.64 389.30L101.04 386.42ZM97.79 387.67L100.99 387.67L99.39 384.79ZM98.45 388.10L101.65 388.10L100.05 385.22ZM97.61 386.43L100.81 386.43L99.21 383.55ZM99.60 387.17L102.80 387.17L101.20 384.29ZM97.71 385.53L100.91 385.53L99.31 382.65ZM100.45 386.37L103.65 386.37L102.05 383.49ZM99.06 384.79L102.26 384.79L100.66 381.91ZM99.83 385.17L103.03 385.17L101.43 382.29ZM98.45 383.67L101.65 383.67L100.05 380.79ZM100.64 384.19L103.84 384.19L102.24 381.31ZM99.58 382.76L102.78 382.76L101.18 379.88ZM100.29 383.14L103.49 383.14L101.89 380.26ZM99.60 381.80L102.80 381.80L101.20 378.92ZM101.81 382.47L105.01 382.47L103.41 379.59ZM99.55 380.69L102.75 380.69L101.15 377.81ZM101.54 381.24L104.74 381.24L103.14 378.36ZM100.07 379.75L103.27 379.75L101.67 376.87ZM101.58 380.03L104.78 380.03L103.18 377.15ZM100.64 378.69L103.84 378.69L102.24 375.81ZM101.55 379.08L104.75 379.08L103.15 376.20ZM101.14 377.64L104.34 377.64L102.74 374.76ZM102.79 378.27L105.99 378.27L104.39 375.39ZM102.29 376.57L105.49 376.57L103.89 373.69ZM102.40 376.77L105.60 376.77L104.00 373.89ZM101.34 375.00L104.54 375.00L102.94 372.12ZM103.86 375.87L107.06 375.87L105.46 372.99ZM101.98 373.75L105.18 373.75L103.58 370.87ZM104.11 374.76L107.31 374.76L105.71 371.88ZM103.73 373.23L106.93 373.23L105.33 370.35ZM104.61 373.76L107.81 373.76L106.21 370.88ZM103.50 372.25L106.70 372.25L105.10 369.37ZM104.82 373.09L108.02 373.09L106.42 370.21ZM103.77 371.21L106.97 371.21L105.37 368.33ZM106.32 372.58L109.52 372.58L107.92 369.70ZM104.73 370.65L107.93 370.65L106.33 367.77ZM106.19 371.40L109.39 371.40L107.79 368.52ZM104.41 369.29L107.61 369.29L106.01 366.41ZM106.81 370.33L110.01 370.33L108.41 367.45ZM106.29 368.72L109.49 368.72L107.89 365.84ZM107.22 369.24L110.42 369.24L108.82 366.36ZM105.99 367.51L109.19 367.51L107.59 364.63ZM107.27 368.24L110.47 368.24L108.87 365.36ZM107.48 366.79L110.68 366.79L109.08 363.91ZM108.13 367.19L111.33 367.19L109.73 364.31ZM107.88 365.79L111.08 365.79L109.48 362.91ZM108.47 366.36L111.67 366.36L110.07 363.48ZM108.16 364.59L111.36 364.59L109.76 361.71ZM109.09 365.31L112.29 365.31L110.69 362.43ZM109.76 363.81L112.96 363.81L111.36 360.93ZM110.15 364.20L113.35 364.20L111.75 361.32ZM109.26 362.29L112.46 362.29L110.86 359.41ZM111.87 363.82L115.07 363.82L113.47 360.94ZM110.45 362.06L113.65 362.06L112.05 359.18ZM111.08 362.24L114.28 362.24L112.68 359.36ZM110.30 360.74L113.50 360.74L111.90 357.86ZM112.11 361.68L115.31 361.68L113.71 358.80ZM110.77 359.73L113.97 359.73L112.37 356.85ZM112.90 361.29L116.10 361.29L114.50 358.41ZM111.54 358.84L114.74 358.84L113.14 355.96ZM113.15 359.61L116.35 359.61L114.75 356.73ZM112.56 357.77L115.76 357.77L114.16 354.89ZM113.09 358.58L116.29 358.58L114.69 355.70ZM113.58 357.40L116.78 357.40L115.18 354.52ZM114.48 357.78L117.68 357.78L116.08 354.90ZM114.45 356.32L117.65 356.32L116.05 353.44ZM115.40 356.86L118.60 356.86L117.00 353.98ZM114.12 354.57L117.32 354.57L115.72 351.69ZM116.17 355.75L119.37 355.75L117.77 352.87ZM115.44 353.61L118.64 353.61L117.04 350.73ZM116.00 354.39L119.20 354.39L117.60 351.51ZM115.78 352.10L118.98 352.10L117.38 349.22ZM116.75 353.18L119.95 353.18L118.35 350.30ZM116.64 350.69L119.84 350.69L118.24 347.81ZM117.38 351.83L120.58 351.83L118.98 348.95ZM118.33 350.90L121.53 350.90L119.93 348.02ZM118.84 351.35L122.04 351.35L120.44 348.47ZM117.83 349.46L121.03 349.46L119.43 346.58ZM119.69 351.25L122.89 351.25L121.29 348.37ZM119.18 348.79L122.38 348.79L120.78 345.91ZM119.76 350.09L122.96 350.09L121.36 347.21ZM119.51 347.78L122.71 347.78L121.11 344.90ZM121.57 350.28L124.77 350.28L123.17 347.40ZM120.86 347.44L124.06 347.44L122.46 344.56ZM121.92 349.27L125.12 349.27L123.52 346.39ZM122.23 347.70L125.43 347.70L123.83 344.82ZM122.60 348.40L125.80 348.40L124.20 345.52ZM121.77 345.96L124.97 345.96L123.37 343.08ZM123.38 348.22L126.58 348.22L124.98 345.34ZM123.36 345.64L126.56 345.64L124.96 342.76ZM124.13 346.96L127.33 346.96L125.73 344.08ZM123.80 344.68L127.00 344.68L125.40 341.80ZM124.99 346.71L128.19 346.71L126.59 343.83ZM125.27 345.24L128.47 345.24L126.87 342.36ZM125.65 345.92L128.85 345.92L127.25 343.04ZM125.76 344.25L128.96 344.25L127.36 341.37ZM126.97 345.79L130.17 345.79L128.57 342.91ZM126.85 343.87L130.05 343.87L128.45 340.99ZM127.60 345.04L130.80 345.04L129.20 342.16ZM127.38 342.39L130.58 342.39L128.98 339.51ZM128.75 344.24L131.95 344.24L130.35 341.36ZM129.07 343.04L132.27 343.04L130.67 340.16ZM129.67 343.81L132.87 343.81L131.27 340.93ZM129.89 341.98L133.09 341.98L131.49 339.10ZM130.38 343.09L133.58 343.09L131.98 340.21ZM130.56 341.43L133.76 341.43L132.16 338.55ZM131.89 343.46L135.09 343.46L133.49 340.58ZM131.76 341.62L134.96 341.62L133.36 338.74ZM131.94 342.44L135.14 342.44L133.54 339.56ZM132.92 341.36L136.12 341.36L134.52 338.48ZM133.41 341.85L136.61 341.85L135.01 338.97ZM133.75 340.43L136.95 340.43L135.35 337.55ZM134.42 341.71L137.62 341.71L136.02 338.83ZM134.97 340.22L138.17 340.22L136.57 337.34ZM135.08 340.98L138.28 340.98L136.68 338.10ZM136.29 338.91L139.49 338.91L137.89 336.03ZM136.79 340.66L139.99 340.66L138.39 337.78ZM137.44 338.55L140.64 338.55L139.04 335.67ZM137.73 340.36L140.93 340.36L139.33 337.48ZM138.45 339.19L141.65 339.19L140.05 336.31ZM138.62 340.82L141.82 340.82L140.22 337.94ZM139.81 338.21L143.01 338.21L141.41 335.33ZM140.53 340.74L143.73 340.74L142.13 337.86ZM140.71 338.41L143.91 338.41L142.31 335.53ZM140.91 339.92L144.11 339.92L142.51 337.04ZM142.46 339.17L145.66 339.17L144.06 336.29ZM142.36 340.63L145.56 340.63L143.96 337.75ZM143.47 338.70L146.67 338.70L145.07 335.82ZM143.91 340.43L147.11 340.43L145.51 337.55ZM144.59 338.60L147.79 338.60L146.19 335.72ZM144.76 340.29L147.96 340.29L146.36 337.41ZM145.08 338.23L148.28 338.23L146.68 335.35ZM145.42 340.16L148.62 340.16L147.02 337.28ZM146.36 338.04L149.56 338.04L147.96 335.16ZM146.74 339.32L149.94 339.32L148.34 336.44ZM146.98 338.13L150.18 338.13L148.58 335.25ZM147.62 339.51L150.82 339.51L149.22 336.63ZM148.43 337.09L151.63 337.09L150.03 334.21ZM148.91 339.93L152.11 339.93L150.51 337.05ZM149.32 337.50L152.52 337.50L150.92 334.62ZM149.27 338.64L152.47 338.64L150.87 335.76ZM149.97 337.27L153.17 337.27L151.57 334.39ZM150.25 339.39L153.45 339.39L151.85 336.51ZM151.70 337.38L154.90 337.38L153.30 334.50ZM151.05 338.33L154.25 338.33L152.65 335.45ZM152.08 337.29L155.28 337.29L153.68 334.41ZM152.12 339.24L155.32 339.24L153.72 336.36ZM153.55 336.55L156.75 336.55L155.15 333.67ZM153.47 339.24L156.67 339.24L155.07 336.36ZM154.48 337.34L157.68 337.34L156.08 334.46ZM154.42 338.71L157.62 338.71L156.02 335.83ZM155.29 337.15L158.49 337.15L156.89 334.27ZM155.77 338.85L158.97 338.85L157.37 335.97ZM155.98 336.15L159.18 336.15L157.58 333.27ZM156.41 338.16L159.61 338.16L158.01 335.28ZM157.18 336.59L160.38 336.59L158.78 333.71ZM157.10 337.90L160.30 337.90L158.70 335.02ZM158.31 336.88L161.51 336.88L159.91 334.00ZM158.90 339.04L162.10 339.04L160.50 336.16ZM159.64 335.91L162.84 335.91L161.24 333.03ZM159.68 338.91L162.88 338.91L161.28 336.03ZM159.94 335.88L163.14 335.88L161.54 333.00ZM160.64 338.35L163.84 338.35L162.24 335.47ZM161.45 336.59L164.65 336.59L163.05 333.71ZM161.60 338.68L164.80 338.68L163.20 335.80ZM162.19 335.93L165.39 335.93L163.79 333.05ZM162.83 337.61L166.03 337.61L164.43 334.73ZM163.22 336.81L166.42 336.81L164.82 333.93ZM163.55 338.03L166.75 338.03L165.15 335.15ZM164.60 336.61L167.80 336.61L166.20 333.73ZM164.62 337.44L167.82 337.44L166.22 334.56ZM165.46 335.97L168.66 335.97L167.06 333.09ZM165.53 337.63L168.73 337.63L167.13 334.75ZM166.24 336.35L169.44 336.35L167.84 333.47ZM166.72 338.04L169.92 338.04L168.32 335.16ZM167.80 336.24L171.00 336.24L169.40 333.36ZM167.26 336.92L170.46 336.92L168.86 334.04ZM168.26 335.47L171.46 335.47L169.86 332.59ZM168.68 337.19L171.88 337.19L170.28 334.31ZM169.58 335.85L172.78 335.85L171.18 332.97ZM169.60 336.48L172.80 336.48L171.20 333.60ZM170.14 335.16L173.34 335.16L171.74 332.28ZM170.32 336.85L173.52 336.85L171.92 333.97ZM171.89 335.29L175.09 335.29L173.49 332.41ZM171.77 336.97L174.97 336.97L173.37 334.09ZM172.84 365.31L176.04 365.31L174.44 362.43ZM176.20 365.60L179.40 365.60L177.80 362.72ZM174.55 364.42L177.75 364.42L176.15 361.54ZM174.91 364.51L178.11 364.51L176.51 361.63ZM173.07 363.28L176.27 363.28L174.67 360.40ZM175.59 363.57L178.79 363.57L177.19 360.69ZM173.06 362.31L176.26 362.31L174.66 359.43ZM175.02 362.48L178.22 362.48L176.62 359.60ZM174.80 361.43L178.00 361.43L176.40 358.55ZM175.03 361.48L178.23 361.48L176.63 358.60ZM173.66 360.32L176.86 360.32L175.26 357.44ZM176.46 360.59L179.66 360.59L178.06 357.71ZM173.61 359.30L176.81 359.30L175.21 356.42ZM176.81 359.59L180.01 359.59L178.41 356.71ZM174.98 358.41L178.18 358.41L176.58 355.53ZM175.90 358.50L179.10 358.50L177.50 355.62ZM174.33 357.33L177.53 357.33L175.93 354.45ZM175.34 357.46L178.54 357.46L176.94 354.58ZM174.44 356.24L177.64 356.24L176.04 353.36ZM176.12 356.63L179.32 356.63L177.72 353.75ZM174.16 355.18L177.36 355.18L175.76 352.30ZM176.64 355.49L179.84 355.49L178.24 352.61ZM175.77 354.20L178.97 354.20L177.37 351.32ZM176.58 354.42L179.78 354.42L178.18 351.54ZM175.44 353.08L178.64 353.08L177.04 350.20ZM177.28 353.36L180.48 353.36L178.88 350.48ZM175.41 352.00L178.61 352.00L177.01 349.12ZM176.48 352.08L179.68 352.08L178.08 349.20ZM175.92 350.83L179.12 350.83L177.52 347.95ZM176.84 351.11L180.04 351.11L178.44 348.23ZM175.69 349.56L178.89 349.56L177.29 346.68ZM178.00 350.24L181.20 350.24L179.60 347.36ZM176.16 348.23L179.36 348.23L177.76 345.35ZM178.09 349.12L181.29 349.12L179.69 346.24ZM176.65 347.07L179.85 347.07L178.25 344.19ZM178.36 347.97L181.56 347.97L179.96 345.09ZM176.66 345.78L179.86 345.78L178.26 342.90ZM178.59 346.82L181.79 346.82L180.19 343.94ZM177.76 345.06L180.96 345.06L179.36 342.18ZM179.09 346.28L182.29 346.28L180.69 343.40ZM178.75 343.66L181.95 343.66L180.35 340.78ZM180.08 346.26L183.28 346.26L181.68 343.38ZM180.27 344.30L183.47 344.30L181.87 341.42ZM180.96 344.82L184.16 344.82L182.56 341.94ZM180.79 343.07L183.99 343.07L182.39 340.19ZM181.58 344.27L184.78 344.27L183.18 341.39ZM182.38 342.77L185.58 342.77L183.98 339.89ZM182.80 344.11L186.00 344.11L184.40 341.23ZM183.76 342.97L186.96 342.97L185.36 340.09ZM183.57 343.55L186.77 343.55L185.17 340.67ZM184.97 341.79L188.17 341.79L186.57 338.91ZM184.55 342.66L187.75 342.66L186.15 339.78ZM185.43 341.14L188.63 341.14L187.03 338.26ZM186.05 342.69L189.25 342.69L187.65 339.81ZM186.97 341.45L190.17 341.45L188.57 338.57ZM187.65 342.76L190.85 342.76L189.25 339.88ZM187.34 340.01L190.54 340.01L188.94 337.13ZM188.64 342.49L191.84 342.49L190.24 339.61ZM189.10 339.87L192.30 339.87L190.70 336.99ZM189.68 342.28L192.88 342.28L191.28 339.40ZM190.10 340.32L193.30 340.32L191.70 337.44ZM190.96 342.24L194.16 342.24L192.56 339.36ZM191.22 339.22L194.42 339.22L192.82 336.34ZM191.70 341.27L194.90 341.27L193.30 338.39ZM192.13 339.33L195.33 339.33L193.73 336.45ZM192.46 341.58L195.66 341.58L194.06 338.70ZM193.09 339.43L196.29 339.43L194.69 336.55ZM193.25 340.48L196.45 340.48L194.85 337.60ZM194.61 339.58L197.81 339.58L196.21 336.70ZM194.39 340.94L197.59 340.94L195.99 338.06ZM195.02 339.51L198.22 339.51L196.62 336.63ZM195.15 340.54L198.35 340.54L196.75 337.66ZM196.58 339.68L199.78 339.68L198.18 336.80ZM196.41 340.50L199.61 340.50L198.01 337.62ZM197.12 338.57L200.32 338.57L198.72 335.69ZM197.18 339.82L200.38 339.82L198.78 336.94ZM198.38 338.75L201.58 338.75L199.98 335.87ZM198.91 340.46L202.11 340.46L200.51 337.58ZM199.67 337.49L202.87 337.49L201.27 334.61ZM199.87 340.56L203.07 340.56L201.47 337.68ZM202.87 367.70L206.07 367.70L204.47 364.82ZM205.06 367.87L208.26 367.87L206.66 364.99ZM203.02 366.60L206.22 366.60L204.62 363.72ZM204.84 366.79L208.04 366.79L206.44 363.91ZM203.36 365.60L206.56 365.60L204.96 362.72ZM205.23 365.83L208.43 365.83L206.83 362.95ZM202.81 364.52L206.01 364.52L204.41 361.64ZM204.17 364.65L207.37 364.65L205.77 361.77ZM202.37 363.39L205.57 363.39L203.97 360.51ZM204.61 363.64L207.81 363.64L206.21 360.76ZM203.17 362.36L206.37 362.36L204.77 359.48ZM205.12 362.63L208.32 362.63L206.72 359.75ZM203.17 361.17L206.37 361.17L204.77 358.29ZM205.05 361.67L208.25 361.67L206.65 358.79ZM203.20 360.01L206.40 360.01L204.80 357.13ZM204.91 360.45L208.11 360.45L206.51 357.57ZM204.13 359.06L207.33 359.06L205.73 356.18ZM206.37 359.47L209.57 359.47L207.97 356.59ZM202.93 357.69L206.13 357.69L204.53 354.81ZM205.82 358.17L209.02 358.17L207.42 355.29ZM203.74 356.64L206.94 356.64L205.34 353.76ZM206.26 357.13L209.46 357.13L207.86 354.25ZM204.90 355.64L208.10 355.64L206.50 352.76ZM205.71 355.83L208.91 355.83L207.31 352.95ZM204.82 354.56L208.02 354.56L206.42 351.68ZM206.54 355.12L209.74 355.12L208.14 352.24ZM204.52 353.54L207.72 353.54L206.12 350.66ZM207.57 354.30L210.77 354.30L209.17 351.42ZM204.03 352.35L207.23 352.35L205.63 349.47ZM207.50 353.21L210.70 353.21L209.10 350.33ZM205.35 351.68L208.55 351.68L206.95 348.80ZM206.61 352.04L209.81 352.04L208.21 349.16ZM205.06 350.25L208.26 350.25L206.66 347.37ZM208.01 351.66L211.21 351.66L209.61 348.78ZM206.29 349.47L209.49 349.47L207.89 346.59ZM208.33 350.52L211.53 350.52L209.93 347.64ZM206.49 348.48L209.69 348.48L208.09 345.60ZM208.78 349.71L211.98 349.71L210.38 346.83ZM207.18 347.44L210.38 347.44L208.78 344.56ZM209.37 348.78L212.57 348.78L210.97 345.90ZM208.12 346.00L211.32 346.00L209.72 343.12ZM209.15 347.89L212.35 347.89L210.75 345.01ZM209.20 345.59L212.40 345.59L210.80 342.71ZM209.45 346.78L212.65 346.78L211.05 343.90ZM209.87 344.93L213.07 344.93L211.47 342.05ZM211.25 346.84L214.45 346.84L212.85 343.96ZM209.85 343.59L213.05 343.59L211.45 340.71ZM211.86 346.11L215.06 346.11L213.46 343.23ZM211.62 344.05L214.82 344.05L213.22 341.17ZM212.32 344.54L215.52 344.54L213.92 341.66ZM211.96 342.69L215.16 342.69L213.56 339.81ZM213.97 344.90L217.17 344.90L215.57 342.02ZM213.38 342.38L216.58 342.38L214.98 339.50ZM214.62 344.18L217.82 344.18L216.22 341.30ZM214.24 342.00L217.44 342.00L215.84 339.12ZM215.09 343.89L218.29 343.89L216.69 341.01ZM215.15 340.41L218.35 340.41L216.75 337.53ZM216.08 343.32L219.28 343.32L217.68 340.44ZM216.20 340.33L219.40 340.33L217.80 337.45ZM217.34 342.49L220.54 342.49L218.94 339.61ZM217.79 341.01L220.99 341.01L219.39 338.13ZM217.98 341.74L221.18 341.74L219.58 338.86ZM218.72 340.21L221.92 340.21L220.32 337.33ZM218.90 341.38L222.10 341.38L220.50 338.50ZM219.74 339.85L222.94 339.85L221.34 336.97ZM220.42 342.35L223.62 342.35L222.02 339.47ZM220.35 339.75L223.55 339.75L221.95 336.87ZM220.82 340.99L224.02 340.99L222.42 338.11ZM221.28 339.48L224.48 339.48L222.88 336.60ZM222.16 341.50L225.36 341.50L223.76 338.62ZM222.85 339.12L226.05 339.12L224.45 336.24ZM222.85 340.40L226.05 340.40L224.45 337.52ZM223.78 339.08L226.98 339.08L225.38 336.20ZM223.85 341.15L227.05 341.15L225.45 338.27ZM224.47 337.91L227.67 337.91L226.07 335.03ZM224.63 339.99L227.83 339.99L226.23 337.11ZM225.61 338.06L228.81 338.06L227.21 335.18ZM225.83 339.55L229.03 339.55L227.43 336.67ZM226.18 337.63L229.38 337.63L227.78 334.75ZM227.14 339.93L230.34 339.93L228.74 337.05ZM227.64 337.98L230.84 337.98L229.24 335.10ZM227.95 339.33L231.15 339.33L229.55 336.45ZM227.78 336.69L230.98 336.69L229.38 333.81ZM229.34 339.82L232.54 339.82L230.94 336.94ZM228.89 337.27L232.09 337.27L230.49 334.39ZM229.97 338.38L233.17 338.38L231.57 335.50ZM230.71 337.43L233.91 337.43L232.31 334.55ZM230.78 338.15L233.98 338.15L232.38 335.27ZM231.06 337.01L234.26 337.01L232.66 334.13ZM231.49 338.69L234.69 338.69L233.09 335.81ZM232.54 336.35L235.74 336.35L234.14 333.47ZM233.12 338.45L236.32 338.45L234.72 335.57ZM232.53 335.08L235.73 335.08L234.13 332.20ZM233.82 337.43L237.02 337.43L235.42 334.55ZM234.30 335.21L237.50 335.21L235.90 332.33ZM233.97 337.58L237.17 337.58L235.57 334.70ZM235.41 335.85L238.61 335.85L237.01 332.97ZM235.87 337.05L239.07 337.05L237.47 334.17ZM237.12 336.27L240.32 336.27L238.72 333.39ZM236.57 337.44L239.77 337.44L238.17 334.56ZM237.53 336.82L240.73 336.82L239.13 333.94ZM238.19 337.72L241.39 337.72L239.79 334.84ZM238.81 336.28L242.01 336.28L240.41 333.40ZM239.00 337.66L242.20 337.66L240.60 334.78ZM239.51 335.47L242.71 335.47L241.11 332.59ZM240.53 337.74L243.73 337.74L242.13 334.86ZM241.03 335.15L244.23 335.15L242.63 332.27ZM241.85 337.17L245.05 337.17L243.45 334.29ZM241.39 334.55L244.59 334.55L242.99 331.67ZM241.92 335.76L245.12 335.76L243.52 332.88ZM242.91 334.34L246.11 334.34L244.51 331.46ZM243.31 335.50L246.51 335.50L244.91 332.62ZM243.33 333.55L246.53 333.55L244.93 330.67ZM244.49 335.63L247.69 335.63L246.09 332.75ZM244.65 332.97L247.85 332.97L246.25 330.09ZM245.73 335.33L248.93 335.33L247.33 332.45ZM245.60 332.16L248.80 332.16L247.20 329.28ZM246.03 334.59L249.23 334.59L247.63 331.71ZM246.99 332.56L250.19 332.56L248.59 329.68ZM247.05 334.27L250.25 334.27L248.65 331.39ZM247.30 332.27L250.50 332.27L248.90 329.39ZM248.01 334.91L251.21 334.91L249.61 332.03ZM248.81 331.67L252.01 331.67L250.41 328.79ZM249.11 333.47L252.31 333.47L250.71 330.59ZM249.59 331.69L252.79 331.69L251.19 328.81ZM249.49 333.11L252.69 333.11L251.09 330.23ZM257.63 331.73L260.83 331.73L259.23 328.85ZM259.08 338.51L262.28 338.51L260.68 335.63ZM258.38 331.79L261.58 331.79L259.98 328.91ZM260.29 337.57L263.49 337.57L261.89 334.69ZM260.17 332.42L263.37 332.42L261.77 329.54ZM260.97 335.69L264.17 335.69L262.57 332.81ZM260.41 330.80L263.61 330.80L262.01 327.92ZM262.61 336.84L265.81 336.84L264.21 333.96ZM262.44 331.94L265.64 331.94L264.04 329.06ZM262.41 337.04L265.61 337.04L264.01 334.16ZM263.21 330.69L266.41 330.69L264.81 327.81ZM263.58 336.45L266.78 336.45L265.18 333.57ZM264.16 330.74L267.36 330.74L265.76 327.86ZM264.53 336.68L267.73 336.68L266.13 333.80ZM265.43 331.87L268.63 331.87L267.03 328.99ZM265.79 335.72L268.99 335.72L267.39 332.84ZM266.49 331.20L269.69 331.20L268.09 328.32ZM266.47 336.34L269.67 336.34L268.07 333.46ZM267.05 331.81L270.25 331.81L268.65 328.93ZM267.55 337.35L270.75 337.35L269.15 334.47ZM268.26 331.00L271.46 331.00L269.86 328.12ZM268.39 337.02L271.59 337.02L269.99 334.14ZM269.55 331.84L272.75 331.84L271.15 328.96ZM269.66 336.05L272.86 336.05L271.26 333.17ZM270.51 330.11L273.71 330.11L272.11 327.23ZM270.25 337.04L273.45 337.04L271.85 334.16ZM271.53 331.19L274.73 331.19L273.13 328.31ZM271.30 336.85L274.50 336.85L272.90 333.97ZM272.10 331.71L275.30 331.71L273.70 328.83ZM272.38 334.96L275.58 334.96L273.98 332.08ZM273.22 329.99L276.42 329.99L274.82 327.11ZM273.22 335.79L276.42 335.79L274.82 332.91ZM274.66 330.97L277.86 330.97L276.26 328.09ZM274.54 336.35L277.74 336.35L276.14 333.47ZM275.49 330.70L278.69 330.70L277.09 327.82ZM275.31 336.46L278.51 336.46L276.91 333.58ZM276.11 330.12L279.31 330.12L277.71 327.24ZM276.35 335.79L279.55 335.79L277.95 332.91ZM277.14 330.85L280.34 330.85L278.74 327.97ZM277.15 335.37L280.35 335.37L278.75 332.49ZM278.07 331.27L281.27 331.27L279.67 328.39ZM278.45 334.45L281.65 334.45L280.05 331.57ZM278.55 329.75L281.75 329.75L280.15 326.87ZM279.65 334.90L282.85 334.90L281.25 332.02ZM279.33 329.24L282.53 329.24L280.93 326.36ZM281.32 335.46L284.52 335.46L282.92 332.58ZM280.95 330.61L284.15 330.61L282.55 327.73ZM282.21 335.63L285.41 335.63L283.81 332.75ZM281.55 329.96L284.75 329.96L283.15 327.08ZM282.82 334.54L286.02 334.54L284.42 331.66ZM282.56 328.89L285.76 328.89L284.16 326.01ZM284.02 334.23L287.22 334.23L285.62 331.35ZM283.56 328.42L286.76 328.42L285.16 325.54ZM284.95 333.95L288.15 333.95L286.55 331.07ZM284.37 327.92L287.57 327.92L285.97 325.04ZM286.38 335.20L289.58 335.20L287.98 332.32ZM286.05 329.08L289.25 329.08L287.65 326.20ZM286.52 333.37L289.72 333.37L288.12 330.49ZM286.61 327.90L289.81 327.90L288.21 325.02ZM287.97 333.64L291.17 333.64L289.57 330.76ZM288.04 327.28L291.24 327.28L289.64 324.40ZM288.69 332.19L291.89 332.19L290.29 329.31ZM288.98 328.23L292.18 328.23L290.58 325.35ZM289.88 334.09L293.08 334.09L291.48 331.21ZM290.32 328.04L293.52 328.04L291.92 325.16ZM290.78 332.92L293.98 332.92L292.38 330.04ZM291.25 327.78L294.45 327.78L292.85 324.90ZM292.07 333.34L295.27 333.34L293.67 330.46ZM291.66 327.90L294.86 327.90L293.26 325.02ZM292.92 333.20L296.12 333.20L294.52 330.32ZM293.10 326.81L296.30 326.81L294.70 323.93ZM293.43 331.62L296.63 331.62L295.03 328.74ZM294.42 328.40L297.62 328.40L296.02 325.52ZM294.32 331.42L297.52 331.42L295.92 328.54ZM294.94 326.53L298.14 326.53L296.54 323.65ZM295.77 331.14L298.97 331.14L297.37 328.26ZM295.89 326.48L299.09 326.48L297.49 323.60ZM296.78 330.98L299.98 330.98L298.38 328.10ZM297.09 327.06L300.29 327.06L298.69 324.18ZM298.26 333.21L301.46 333.21L299.86 330.33ZM297.83 325.72L301.03 325.72L299.43 322.84ZM298.59 331.39L301.79 331.39L300.19 328.51ZM299.69 327.85L302.89 327.85L301.29 324.97ZM299.37 331.16L302.57 331.16L300.97 328.28ZM300.04 326.99L303.24 326.99L301.64 324.11ZM300.72 332.57L303.92 332.57L302.32 329.69ZM301.13 326.40L304.33 326.40L302.73 323.52ZM301.36 330.43L304.56 330.43L302.96 327.55ZM302.36 325.41L305.56 325.41L303.96 322.53ZM302.48 332.40L305.68 332.40L304.08 329.52ZM302.90 327.03L306.10 327.03L304.50 324.15ZM303.51 331.51L306.71 331.51L305.11 328.63ZM304.19 326.28L307.39 326.28L305.79 323.40ZM304.52 331.55L307.72 331.55L306.12 328.67ZM304.89 325.34L308.09 325.34L306.49 322.46ZM305.74 332.32L308.94 332.32L307.34 329.44ZM306.14 327.17L309.34 327.17L307.74 324.29ZM306.54 331.26L309.74 331.26L308.14 328.38ZM307.04 325.78L310.24 325.78L308.64 322.90ZM307.80 330.51L311.00 330.51L309.40 327.63ZM308.39 326.40L311.59 326.40L309.99 323.52ZM308.77 331.78L311.97 331.78L310.37 328.90ZM309.53 325.90L312.73 325.90L311.13 323.02ZM309.92 330.78L313.12 330.78L311.52 327.90ZM310.22 326.82L313.42 326.82L311.82 323.94ZM310.30 331.18L313.50 331.18L311.90 328.30ZM310.74 324.68L313.94 324.68L312.34 321.80ZM311.40 330.99L314.60 330.99L313.00 328.11ZM312.12 324.43L315.32 324.43L313.72 321.55ZM312.70 331.42L315.90 331.42L314.30 328.54ZM313.27 324.98L316.47 324.98L314.87 322.10ZM313.35 330.04L316.55 330.04L314.95 327.16ZM313.81 324.47L317.01 324.47L315.41 321.59ZM314.49 331.54L317.69 331.54L316.09 328.66ZM314.94 326.26L318.14 326.26L316.54 323.38ZM316.06 331.10L319.26 331.10L317.66 328.22ZM316.32 325.37L319.52 325.37L317.92 322.49ZM316.90 329.67L320.10 329.67L318.50 326.79ZM316.85 324.59L320.05 324.59L318.45 321.71ZM317.69 329.07L320.89 329.07L319.29 326.19ZM318.50 326.14L321.70 326.14L320.10 323.26ZM318.43 329.58L321.63 329.58L320.03 326.70ZM318.93 324.65L322.13 324.65L320.53 321.77ZM319.44 330.14L322.64 330.14L321.04 327.26ZM319.83 323.69L323.03 323.69L321.43 320.81ZM320.53 330.73L323.73 330.73L322.13 327.85ZM321.39 323.86L324.59 323.86L322.99 320.98ZM321.30 329.47L324.50 329.47L322.90 326.59ZM322.25 324.81L325.45 324.81L323.85 321.93ZM322.66 328.93L325.86 328.93L324.26 326.05ZM323.19 325.42L326.39 325.42L324.79 322.54ZM323.72 330.09L326.92 330.09L325.32 327.21ZM323.73 323.81L326.93 323.81L325.33 320.93ZM324.50 330.23L327.70 330.23L326.10 327.35ZM325.37 323.07L328.57 323.07L326.97 320.19ZM325.86 330.39L329.06 330.39L327.46 327.51ZM326.04 324.56L329.24 324.56L327.64 321.68ZM326.78 329.79L329.98 329.79L328.38 326.91ZM326.64 322.82L329.84 322.82L328.24 319.94ZM327.99 329.00L331.19 329.00L329.59 326.12ZM328.10 323.55L331.30 323.55L329.70 320.67ZM328.29 327.87L331.49 327.87L329.89 324.99ZM329.71 324.25L332.91 324.25L331.31 321.37ZM329.18 329.70L332.38 329.70L330.78 326.82ZM250.98 345.63L254.18 345.63L252.58 342.75ZM253.92 346.17L257.12 346.17L255.52 343.29ZM252.52 344.64L255.72 344.64L254.12 341.76ZM253.52 345.06L256.72 345.06L255.12 342.18ZM252.41 343.52L255.61 343.52L254.01 340.64ZM253.96 343.84L257.16 343.84L255.56 340.96ZM253.10 342.43L256.30 342.43L254.70 339.55ZM253.75 342.73L256.95 342.73L255.35 339.85ZM252.52 341.07L255.72 341.07L254.12 338.19ZM254.78 341.81L257.98 341.81L256.38 338.93ZM253.23 340.01L256.43 340.01L254.83 337.13ZM254.56 340.56L257.76 340.56L256.16 337.68ZM254.26 339.15L257.46 339.15L255.86 336.27ZM255.15 339.55L258.35 339.55L256.75 336.67ZM254.27 338.00L257.47 338.00L255.87 335.12ZM255.73 338.70L258.93 338.70L257.33 335.82ZM255.51 336.79L258.71 336.79L257.11 333.91ZM256.21 337.81L259.41 337.81L257.81 334.93ZM255.70 335.52L258.90 335.52L257.30 332.64ZM256.47 336.94L259.67 336.94L258.07 334.06ZM256.38 334.78L259.58 334.78L257.98 331.90ZM257.99 336.47L261.19 336.47L259.59 333.59ZM258.37 334.53L261.57 334.53L259.97 331.65ZM258.43 335.60L261.63 335.60L260.03 332.72ZM171.90 373.44L175.10 373.44L173.50 370.56ZM171.90 376.44L175.10 376.44L173.50 373.56ZM171.90 379.44L175.10 379.44L173.50 376.56ZM171.90 382.44L175.10 382.44L173.50 379.56ZM171.90 385.44L175.10 385.44L173.50 382.56ZM171.90 388.44L175.10 388.44L173.50 385.56ZM171.90 391.44L175.10 391.44L173.50 388.56ZM171.90 394.44L175.10 394.44L173.50 391.56ZM171.90 397.44L175.10 397.44L173.50 394.56ZM171.90 400.44L175.10 400.44L173.50 397.56ZM171.90 403.44L175.10 403.44L173.50 400.56ZM171.90 406.94L175.10 406.94L173.50 404.06ZM201.70 371.74L204.90 371.74L203.30 368.86ZM201.70 374.54L204.90 374.54L203.30 371.66ZM201.70 377.44L204.90 377.44L203.30 374.56ZM201.70 380.84L204.90 380.84L203.30 377.96ZM201.70 384.34L204.90 384.34L203.30 381.46ZM201.70 387.14L204.90 387.14L203.30 384.26ZM201.70 390.54L204.90 390.54L203.30 387.66ZM201.70 396.34L204.90 396.34L203.30 393.46ZM201.70 402.54L204.90 402.54L203.30 399.66ZM201.70 409.44L204.90 409.44L203.30 406.56ZM201.70 418.34L204.90 418.34L203.30 415.46ZM201.70 429.74L204.90 429.74L203.30 426.86ZM201.70 441.64L204.90 441.64L203.30 438.76ZM201.70 461.24L204.90 461.24L203.30 458.36ZM201.70 482.94L204.90 482.94L203.30 480.06ZM238.70 338.54L241.90 338.54L240.30 335.66ZM238.70 343.74L241.90 343.74L240.30 340.86ZM238.70 348.84L241.90 348.84L240.30 345.96ZM238.70 354.04L241.90 354.04L240.30 351.16ZM238.70 366.04L241.90 366.04L240.30 363.16ZM251.30 341.44L254.50 341.44L252.90 338.56ZM251.30 344.44L254.50 344.44L252.90 341.56ZM251.30 347.44L254.50 347.44L252.90 344.56ZM251.30 350.44L254.50 350.44L252.90 347.56ZM251.30 353.44L254.50 353.44L252.90 350.56ZM251.30 356.44L254.50 356.44L252.90 353.56ZM251.30 359.44L254.50 359.44L252.90 356.56ZM251.30 362.44L254.50 362.44L252.90 359.56ZM251.30 365.44L254.50 365.44L252.90 362.56ZM92.70 312.04L95.90 312.04L94.30 309.16ZM92.70 352.94L95.90 352.94L94.30 350.06ZM93.40 378.44L96.60 378.44L95.00 375.56ZM93.10 393.44L96.30 393.44L94.70 390.56ZM93.90 406.44L97.10 406.44L95.50 403.56ZM140.00 312.54L143.20 312.54L141.60 309.66ZM140.00 325.64L143.20 325.64L141.60 322.76ZM140.00 331.34L143.20 331.34L141.60 328.46ZM140.00 335.64L143.20 335.64L141.60 332.76ZM237.70 390.84L240.90 390.84L239.30 387.96ZM276.10 316.14L279.30 316.14L277.70 313.26ZM276.10 321.04L279.30 321.04L277.70 318.16ZM267.40 337.84L270.60 337.84L269.00 334.96ZM290.10 340.14L293.30 340.14L291.70 337.26ZM293.80 325.34L297.00 325.34L295.40 322.46ZM324.60 313.04L327.80 313.04L326.20 310.16ZM312.00 322.04L315.20 322.04L313.60 319.16ZM290.10 421.94L293.30 421.94L291.70 419.06ZM94.40 406.34L97.60 406.34L96.00 403.46ZM302.40 333.44L305.60 333.44L304.00 330.56ZM299.40 324.44L302.60 324.44L301.00 321.56ZM311.80 321.84L315.00 321.84L313.40 318.96Z" fill="#666666"/>
<rect x="90.3" y="564.5" width="257.60" height="207.3" fill="none" stroke="#1c1c1c" stroke-width="1.4"/>
<path d="M90.30 567.60h4.5 M347.90 567.60h-4.5 M90.30 574.31h2.5 M347.90 574.31h-2.5 M90.30 581.01h2.5 M347.90 581.01h-2.5 M90.30 587.72h2.5 M347.90 587.72h-2.5 M90.30 594.43h2.5 M347.90 594.43h-2.5 M90.30 601.13h4.5 M347.90 601.13h-4.5 M90.30 607.84h2.5 M347.90 607.84h-2.5 M90.30 614.55h2.5 M347.90 614.55h-2.5 M90.30 621.25h2.5 M347.90 621.25h-2.5 M90.30 627.96h2.5 M347.90 627.96h-2.5 M90.30 634.67h4.5 M347.90 634.67h-4.5 M90.30 641.37h2.5 M347.90 641.37h-2.5 M90.30 648.08h2.5 M347.90 648.08h-2.5 M90.30 654.79h2.5 M347.90 654.79h-2.5 M90.30 661.49h2.5 M347.90 661.49h-2.5 M90.30 668.20h4.5 M347.90 668.20h-4.5 M90.30 674.91h2.5 M347.90 674.91h-2.5 M90.30 681.61h2.5 M347.90 681.61h-2.5 M90.30 688.32h2.5 M347.90 688.32h-2.5 M90.30 695.03h2.5 M347.90 695.03h-2.5 M90.30 701.73h4.5 M347.90 701.73h-4.5 M90.30 708.44h2.5 M347.90 708.44h-2.5 M90.30 715.15h2.5 M347.90 715.15h-2.5 M90.30 721.85h2.5 M347.90 721.85h-2.5 M90.30 728.56h2.5 M347.90 728.56h-2.5 M90.30 735.27h4.5 M347.90 735.27h-4.5 M90.30 741.97h2.5 M347.90 741.97h-2.5 M90.30 748.68h2.5 M347.90 748.68h-2.5 M90.30 755.39h2.5 M347.90 755.39h-2.5 M90.30 762.09h2.5 M347.90 762.09h-2.5 M90.30 768.80h4.5 M347.90 768.80h-4.5 M93.30 771.80v5 M109.03 771.80v2.6 M124.77 771.80v2.6 M140.50 771.80v5 M156.23 771.80v2.6 M171.97 771.80v2.6 M187.70 771.80v5 M203.43 771.80v2.6 M219.17 771.80v2.6 M234.90 771.80v5 M250.63 771.80v2.6 M266.37 771.80v2.6 M282.10 771.80v5 M297.83 771.80v2.6 M313.57 771.80v2.6 M329.30 771.80v5 M345.03 771.80v2.6" stroke="#1c1c1c" stroke-width="1.2" fill="none"/>
<text x="86.2" y="573.40" text-anchor="end" class="tl">300</text>
<text x="86.2" y="606.93" text-anchor="end" class="tl">250</text>
<text x="86.2" y="640.47" text-anchor="end" class="tl">200</text>
<text x="86.2" y="674.00" text-anchor="end" class="tl">150</text>
<text x="86.2" y="707.53" text-anchor="end" class="tl">100</text>
<text x="86.2" y="741.07" text-anchor="end" class="tl">50</text>
<text x="86.2" y="774.60" text-anchor="end" class="tl">0</text>
<text x="93.30" y="795.00" text-anchor="middle" class="tl">0</text>
<text x="140.50" y="795.00" text-anchor="middle" class="tl">300</text>
<text x="187.70" y="795.00" text-anchor="middle" class="tl">600</text>
<text x="234.90" y="795.00" text-anchor="middle" class="tl">900</text>
<text x="282.10" y="795.00" text-anchor="middle" class="tl">1200</text>
<text x="329.30" y="795.00" text-anchor="middle" class="tl">1500</text>
<text x="219.1" y="816.00" text-anchor="middle" class="at">Cycle Number</text>
<text transform="translate(41.5 749.1) rotate(-90)" class="at">Energy (Wh/L<tspan font-size="11.9" dy="3.4">LTO+LMO</tspan><tspan dy="-3.4">)</tspan></text>
<text x="102.2" y="708.90" class="lt">1.2M EC/EMC</text>
<rect x="103.4" y="715.90" width="72.9" height="48.6" fill="none" stroke="#1c1c1c" stroke-width="1.3"/>
<circle cx="120" cy="726.10" r="4.1" fill="#0000ff"/>
<rect x="116.0" y="736.50" width="8" height="8" fill="#ff0000"/>
<path d="M115.3 757.70L124.7 757.70L120 749.90Z" fill="#666666"/>
<text x="134.2" y="730.50" class="le">N/P&gt;1</text>
<text x="134.2" y="744.80" class="le">N/P=1</text>
<text x="134.2" y="759.00" class="le">N/P&lt;1</text>
<polyline points="94.30,624.10 113.70,627.40 139.40,631.30 165.10,636.40 178.00,639.00 195.70,642.10 221.40,646.70 247.10,651.30 260.00,654.30 280.70,657.80 306.40,661.60 329.60,665.50" fill="none" stroke="#0000ff" stroke-width="3.6" stroke-linejoin="round" stroke-linecap="round"/>
<polyline points="94.10,600.90 113.70,605.10 139.40,609.90 165.10,615.30 178.00,618.20 195.70,622.30 221.40,627.40 247.10,632.60 260.00,634.60 280.70,637.70 306.40,642.10 316.20,643.60 317.40,645.20 329.40,646.20" fill="none" stroke="#ff0000" stroke-width="3.9" stroke-linejoin="round" stroke-linecap="round"/>
<polyline points="93.40,614.20 100.90,613.40 126.60,612.90 152.30,612.90 178.00,612.90 195.70,612.30 221.40,612.30 247.10,613.10 260.00,614.20 267.90,615.20 275.30,616.20 276.00,616.90 288.40,618.30 290.60,618.80 291.40,621.50 306.40,623.70 319.30,625.50 330.40,626.70" fill="none" stroke="#666666" stroke-width="3.2" stroke-linejoin="round" stroke-linecap="round"/>
<path d="M170.80 601.35L173.80 601.35L172.30 598.65ZM250.30 606.55L253.30 606.55L251.80 603.85ZM199.40 615.75L202.40 615.75L200.90 613.05ZM91.60 602.55L94.60 602.55L93.10 599.85Z" fill="#666666"/>
<g fill="#ff0000"><rect x="91.70" y="593.40" width="2.8" height="2.8"/><rect x="170.90" y="608.80" width="2.8" height="2.8"/><rect x="250.40" y="626.00" width="2.8" height="2.8"/></g>
<g fill="#0000ff"><circle cx="93.10" cy="619.70" r="1.5"/><circle cx="172.30" cy="633.30" r="1.5"/><circle cx="251.80" cy="648.00" r="1.5"/></g>
</svg>
</body></html>
